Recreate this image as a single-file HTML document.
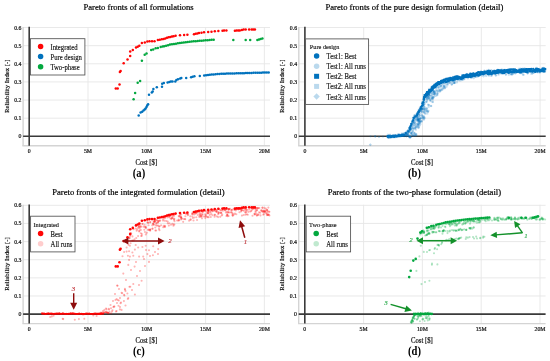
<!DOCTYPE html>
<html><head><meta charset="utf-8"><title>Pareto fronts</title>
<style>
html,body{margin:0;padding:0;background:#fff;}
body{width:550px;height:361px;overflow:hidden;}
svg{display:block;}
text{font-family:'Liberation Serif', 'Times New Roman', serif;}
.ti{font-size:8.6px;fill:#000;stroke:#000;stroke-width:0.2px;}
.tk{font-size:5.8px;fill:#111;stroke:#111;stroke-width:0.2px;}
.ax{font-size:6.7px;fill:#111;stroke:#111;stroke-width:0.18px;}
.pl{font-size:10.6px;font-weight:bold;fill:#000;}
.lg{font-size:6.7px;fill:#111;stroke:#111;stroke-width:0.13px;}
.lgt{font-size:6.3px;fill:#111;stroke:#111;stroke-width:0.12px;}
.an{font-size:6.9px;font-style:italic;}
</style></head>
<body>
<svg width="550" height="361" viewBox="0 0 550 361">
<rect width="550" height="361" fill="#fff"/>
<line x1="88" y1="27" x2="88" y2="145.8" stroke="#e6e6e6" stroke-width="0.9"/>
<line x1="146.8" y1="27" x2="146.8" y2="145.8" stroke="#e6e6e6" stroke-width="0.9"/>
<line x1="205.6" y1="27" x2="205.6" y2="145.8" stroke="#e6e6e6" stroke-width="0.9"/>
<line x1="264.4" y1="27" x2="264.4" y2="145.8" stroke="#e6e6e6" stroke-width="0.9"/>
<line x1="23.1" y1="118.17" x2="270" y2="118.17" stroke="#e6e6e6" stroke-width="0.9"/>
<line x1="23.1" y1="100.04" x2="270" y2="100.04" stroke="#e6e6e6" stroke-width="0.9"/>
<line x1="23.1" y1="81.91" x2="270" y2="81.91" stroke="#e6e6e6" stroke-width="0.9"/>
<line x1="23.1" y1="63.78" x2="270" y2="63.78" stroke="#e6e6e6" stroke-width="0.9"/>
<line x1="23.1" y1="45.65" x2="270" y2="45.65" stroke="#e6e6e6" stroke-width="0.9"/>
<line x1="23.1" y1="27.52" x2="270" y2="27.52" stroke="#e6e6e6" stroke-width="0.9"/>
<line x1="23.1" y1="27" x2="23.1" y2="145.8" stroke="#d4d4d4" stroke-width="1.4"/>
<line x1="22.4" y1="145.8" x2="270" y2="145.8" stroke="#d4d4d4" stroke-width="1.4"/>
<line x1="363.7" y1="27" x2="363.7" y2="145.8" stroke="#e6e6e6" stroke-width="0.9"/>
<line x1="422.5" y1="27" x2="422.5" y2="145.8" stroke="#e6e6e6" stroke-width="0.9"/>
<line x1="481.3" y1="27" x2="481.3" y2="145.8" stroke="#e6e6e6" stroke-width="0.9"/>
<line x1="540.1" y1="27" x2="540.1" y2="145.8" stroke="#e6e6e6" stroke-width="0.9"/>
<line x1="298.8" y1="118.17" x2="545.7" y2="118.17" stroke="#e6e6e6" stroke-width="0.9"/>
<line x1="298.8" y1="100.04" x2="545.7" y2="100.04" stroke="#e6e6e6" stroke-width="0.9"/>
<line x1="298.8" y1="81.91" x2="545.7" y2="81.91" stroke="#e6e6e6" stroke-width="0.9"/>
<line x1="298.8" y1="63.78" x2="545.7" y2="63.78" stroke="#e6e6e6" stroke-width="0.9"/>
<line x1="298.8" y1="45.65" x2="545.7" y2="45.65" stroke="#e6e6e6" stroke-width="0.9"/>
<line x1="298.8" y1="27.52" x2="545.7" y2="27.52" stroke="#e6e6e6" stroke-width="0.9"/>
<line x1="298.8" y1="27" x2="298.8" y2="145.8" stroke="#d4d4d4" stroke-width="1.4"/>
<line x1="298.1" y1="145.8" x2="545.7" y2="145.8" stroke="#d4d4d4" stroke-width="1.4"/>
<line x1="88" y1="204.8" x2="88" y2="323.6" stroke="#e6e6e6" stroke-width="0.9"/>
<line x1="146.8" y1="204.8" x2="146.8" y2="323.6" stroke="#e6e6e6" stroke-width="0.9"/>
<line x1="205.6" y1="204.8" x2="205.6" y2="323.6" stroke="#e6e6e6" stroke-width="0.9"/>
<line x1="264.4" y1="204.8" x2="264.4" y2="323.6" stroke="#e6e6e6" stroke-width="0.9"/>
<line x1="23.1" y1="295.97" x2="270" y2="295.97" stroke="#e6e6e6" stroke-width="0.9"/>
<line x1="23.1" y1="277.84" x2="270" y2="277.84" stroke="#e6e6e6" stroke-width="0.9"/>
<line x1="23.1" y1="259.71" x2="270" y2="259.71" stroke="#e6e6e6" stroke-width="0.9"/>
<line x1="23.1" y1="241.58" x2="270" y2="241.58" stroke="#e6e6e6" stroke-width="0.9"/>
<line x1="23.1" y1="223.45" x2="270" y2="223.45" stroke="#e6e6e6" stroke-width="0.9"/>
<line x1="23.1" y1="205.32" x2="270" y2="205.32" stroke="#e6e6e6" stroke-width="0.9"/>
<line x1="23.1" y1="204.8" x2="23.1" y2="323.6" stroke="#d4d4d4" stroke-width="1.4"/>
<line x1="22.4" y1="323.6" x2="270" y2="323.6" stroke="#d4d4d4" stroke-width="1.4"/>
<line x1="363.6" y1="204.8" x2="363.6" y2="323.6" stroke="#e6e6e6" stroke-width="0.9"/>
<line x1="422.4" y1="204.8" x2="422.4" y2="323.6" stroke="#e6e6e6" stroke-width="0.9"/>
<line x1="481.2" y1="204.8" x2="481.2" y2="323.6" stroke="#e6e6e6" stroke-width="0.9"/>
<line x1="540" y1="204.8" x2="540" y2="323.6" stroke="#e6e6e6" stroke-width="0.9"/>
<line x1="298.7" y1="295.97" x2="545.6" y2="295.97" stroke="#e6e6e6" stroke-width="0.9"/>
<line x1="298.7" y1="277.84" x2="545.6" y2="277.84" stroke="#e6e6e6" stroke-width="0.9"/>
<line x1="298.7" y1="259.71" x2="545.6" y2="259.71" stroke="#e6e6e6" stroke-width="0.9"/>
<line x1="298.7" y1="241.58" x2="545.6" y2="241.58" stroke="#e6e6e6" stroke-width="0.9"/>
<line x1="298.7" y1="223.45" x2="545.6" y2="223.45" stroke="#e6e6e6" stroke-width="0.9"/>
<line x1="298.7" y1="205.32" x2="545.6" y2="205.32" stroke="#e6e6e6" stroke-width="0.9"/>
<line x1="298.7" y1="204.8" x2="298.7" y2="323.6" stroke="#d4d4d4" stroke-width="1.4"/>
<line x1="298" y1="323.6" x2="545.6" y2="323.6" stroke="#d4d4d4" stroke-width="1.4"/>
<text x="138.6" y="10.1" text-anchor="middle" class="ti">Pareto fronts of all formulations</text>
<text x="414.4" y="10.1" text-anchor="middle" class="ti">Pareto fronts of the pure design formulation (detail)</text>
<text x="138.4" y="194.6" text-anchor="middle" class="ti">Pareto fronts of the integrated formulation (detail)</text>
<text x="414.4" y="194.6" text-anchor="middle" class="ti">Pareto fronts of the two-phase formulation (detail)</text>
<text x="21.4" y="138.3" text-anchor="end" class="tk">0</text>
<text x="21.4" y="120.17" text-anchor="end" class="tk">0.1</text>
<text x="21.4" y="102.04" text-anchor="end" class="tk">0.2</text>
<text x="21.4" y="83.91" text-anchor="end" class="tk">0.3</text>
<text x="21.4" y="65.78" text-anchor="end" class="tk">0.4</text>
<text x="21.4" y="47.65" text-anchor="end" class="tk">0.5</text>
<text x="21.4" y="29.52" text-anchor="end" class="tk">0.6</text>
<text x="29.2" y="152.8" text-anchor="middle" class="tk">0</text>
<text x="88" y="152.8" text-anchor="middle" class="tk">5M</text>
<text x="146.8" y="152.8" text-anchor="middle" class="tk">10M</text>
<text x="205.6" y="152.8" text-anchor="middle" class="tk">15M</text>
<text x="264.4" y="152.8" text-anchor="middle" class="tk">20M</text>
<text transform="translate(146.3,164.8) scale(1,1.15)" text-anchor="middle" class="ax">Cost [$]</text>
<text transform="translate(8.7,86.3) rotate(-90)" text-anchor="middle" class="ax">Reliability Index [-]</text>
<text x="297.1" y="138.3" text-anchor="end" class="tk">0</text>
<text x="297.1" y="120.17" text-anchor="end" class="tk">0.1</text>
<text x="297.1" y="102.04" text-anchor="end" class="tk">0.2</text>
<text x="297.1" y="83.91" text-anchor="end" class="tk">0.3</text>
<text x="297.1" y="65.78" text-anchor="end" class="tk">0.4</text>
<text x="297.1" y="47.65" text-anchor="end" class="tk">0.5</text>
<text x="297.1" y="29.52" text-anchor="end" class="tk">0.6</text>
<text x="304.9" y="152.8" text-anchor="middle" class="tk">0</text>
<text x="363.7" y="152.8" text-anchor="middle" class="tk">5M</text>
<text x="422.5" y="152.8" text-anchor="middle" class="tk">10M</text>
<text x="481.3" y="152.8" text-anchor="middle" class="tk">15M</text>
<text x="540.1" y="152.8" text-anchor="middle" class="tk">20M</text>
<text transform="translate(422,164.8) scale(1,1.15)" text-anchor="middle" class="ax">Cost [$]</text>
<text transform="translate(284.4,86.3) rotate(-90)" text-anchor="middle" class="ax">Reliability Index [-]</text>
<text x="21.4" y="316.1" text-anchor="end" class="tk">0</text>
<text x="21.4" y="297.97" text-anchor="end" class="tk">0.1</text>
<text x="21.4" y="279.84" text-anchor="end" class="tk">0.2</text>
<text x="21.4" y="261.71" text-anchor="end" class="tk">0.3</text>
<text x="21.4" y="243.58" text-anchor="end" class="tk">0.4</text>
<text x="21.4" y="225.45" text-anchor="end" class="tk">0.5</text>
<text x="21.4" y="207.32" text-anchor="end" class="tk">0.6</text>
<text x="29.2" y="330.6" text-anchor="middle" class="tk">0</text>
<text x="88" y="330.6" text-anchor="middle" class="tk">5M</text>
<text x="146.8" y="330.6" text-anchor="middle" class="tk">10M</text>
<text x="205.6" y="330.6" text-anchor="middle" class="tk">15M</text>
<text x="264.4" y="330.6" text-anchor="middle" class="tk">20M</text>
<text transform="translate(146.3,342.6) scale(1,1.15)" text-anchor="middle" class="ax">Cost [$]</text>
<text transform="translate(8.7,264.1) rotate(-90)" text-anchor="middle" class="ax">Reliability Index [-]</text>
<text x="297" y="316.1" text-anchor="end" class="tk">0</text>
<text x="297" y="297.97" text-anchor="end" class="tk">0.1</text>
<text x="297" y="279.84" text-anchor="end" class="tk">0.2</text>
<text x="297" y="261.71" text-anchor="end" class="tk">0.3</text>
<text x="297" y="243.58" text-anchor="end" class="tk">0.4</text>
<text x="297" y="225.45" text-anchor="end" class="tk">0.5</text>
<text x="297" y="207.32" text-anchor="end" class="tk">0.6</text>
<text x="304.8" y="330.6" text-anchor="middle" class="tk">0</text>
<text x="363.6" y="330.6" text-anchor="middle" class="tk">5M</text>
<text x="422.4" y="330.6" text-anchor="middle" class="tk">10M</text>
<text x="481.2" y="330.6" text-anchor="middle" class="tk">15M</text>
<text x="540" y="330.6" text-anchor="middle" class="tk">20M</text>
<text transform="translate(421.9,342.6) scale(1,1.15)" text-anchor="middle" class="ax">Cost [$]</text>
<text transform="translate(284.3,264.1) rotate(-90)" text-anchor="middle" class="ax">Reliability Index [-]</text>
<text transform="translate(139,176.8) scale(1,1.12)" text-anchor="middle" class="pl">(a)</text>
<text transform="translate(414.5,176.8) scale(1,1.12)" text-anchor="middle" class="pl">(b)</text>
<text transform="translate(138.8,355) scale(1,1.12)" text-anchor="middle" class="pl">(c)</text>
<text transform="translate(414.5,355) scale(1,1.12)" text-anchor="middle" class="pl">(d)</text>
<line x1="29.2" y1="26.8" x2="29.2" y2="145.8" stroke="#3a3a3a" stroke-width="1.6"/>
<line x1="23.1" y1="136.3" x2="270" y2="136.3" stroke="#3a3a3a" stroke-width="1.6"/>
<line x1="304.9" y1="26.8" x2="304.9" y2="145.8" stroke="#3a3a3a" stroke-width="1.6"/>
<line x1="298.8" y1="136.3" x2="545.7" y2="136.3" stroke="#3a3a3a" stroke-width="1.6"/>
<line x1="29.2" y1="204.6" x2="29.2" y2="323.6" stroke="#3a3a3a" stroke-width="1.6"/>
<line x1="23.1" y1="314.1" x2="270" y2="314.1" stroke="#3a3a3a" stroke-width="1.6"/>
<line x1="304.8" y1="204.6" x2="304.8" y2="323.6" stroke="#3a3a3a" stroke-width="1.6"/>
<line x1="298.7" y1="314.1" x2="545.6" y2="314.1" stroke="#3a3a3a" stroke-width="1.6"/>
<g fill="#ff0505"><circle cx="115.8" cy="88.6" r="1.25"/><circle cx="117.7" cy="88.6" r="1.25"/><circle cx="119.5" cy="84.4" r="1.25"/><circle cx="119.9" cy="71.9" r="1.25"/><circle cx="120.6" cy="70.9" r="1.25"/><circle cx="123.7" cy="63.3" r="1.25"/><circle cx="127.5" cy="59.5" r="1.25"/><circle cx="130.2" cy="56.1" r="1.25"/><circle cx="130.2" cy="51.4" r="1.25"/><circle cx="132.8" cy="50.1" r="1.25"/><circle cx="136" cy="47.6" r="1.25"/><circle cx="137.7" cy="46.7" r="1.25"/><circle cx="139.3" cy="45.8" r="1.25"/><circle cx="141.9" cy="43" r="1.25"/><circle cx="144.8" cy="42.5" r="1.25"/><circle cx="147.4" cy="41.6" r="1.25"/><circle cx="149.5" cy="41.3" r="1.25"/><circle cx="152" cy="41.3" r="1.25"/><circle cx="154.5" cy="41.3" r="1.25"/><circle cx="157.9" cy="40" r="1.25"/><circle cx="159.8" cy="39.7" r="1.25"/><circle cx="161.8" cy="39.3" r="1.25"/><circle cx="163.6" cy="38.9" r="1.25"/><circle cx="165.3" cy="38.4" r="1.25"/><circle cx="167" cy="37.8" r="1.25"/><circle cx="168.7" cy="37.3" r="1.25"/><circle cx="170.3" cy="36.9" r="1.25"/><circle cx="172" cy="36.5" r="1.25"/><circle cx="173.6" cy="36.2" r="1.25"/><circle cx="175.6" cy="35.8" r="1.25"/><circle cx="180" cy="35.3" r="1.25"/><circle cx="184.1" cy="35" r="1.25"/><circle cx="187.4" cy="34.7" r="1.25"/><circle cx="194" cy="34.2" r="1.25"/><circle cx="195.7" cy="33.8" r="1.25"/><circle cx="197.4" cy="33.4" r="1.25"/><circle cx="199" cy="33" r="1.25"/><circle cx="201.5" cy="32.7" r="1.25"/><circle cx="204" cy="32.3" r="1.25"/><circle cx="208.2" cy="32" r="1.25"/><circle cx="211.5" cy="31.7" r="1.25"/><circle cx="214.8" cy="31.3" r="1.25"/><circle cx="218.4" cy="31" r="1.25"/><circle cx="222.5" cy="30.8" r="1.25"/><circle cx="224.1" cy="30.6" r="1.25"/><circle cx="226.4" cy="30.6" r="1.25"/><circle cx="234.9" cy="30.8" r="1.25"/><circle cx="236.6" cy="30.6" r="1.25"/><circle cx="238.3" cy="30.6" r="1.25"/><circle cx="239.8" cy="30.6" r="1.25"/><circle cx="241.9" cy="30" r="1.25"/><circle cx="243.6" cy="29.6" r="1.25"/><circle cx="245.7" cy="29.6" r="1.25"/><circle cx="249.1" cy="29.5" r="1.25"/><circle cx="251.6" cy="29.6" r="1.25"/><circle cx="253.2" cy="29.6" r="1.25"/><circle cx="254.9" cy="29.6" r="1.25"/></g>
<g fill="#03a83f"><circle cx="133.6" cy="99.3" r="1.25"/><circle cx="135.1" cy="93" r="1.25"/><circle cx="137.7" cy="82.8" r="1.25"/><circle cx="140.1" cy="81.1" r="1.25"/><circle cx="141.9" cy="60.8" r="1.25"/><circle cx="144.7" cy="54.8" r="1.25"/><circle cx="146.5" cy="53.4" r="1.25"/><circle cx="151.2" cy="50" r="1.25"/><circle cx="153.2" cy="49.5" r="1.25"/><circle cx="155.7" cy="48.3" r="1.25"/><circle cx="157.9" cy="48" r="1.25"/><circle cx="160.7" cy="47" r="1.25"/><circle cx="162.6" cy="46.5" r="1.25"/><circle cx="164.2" cy="46.2" r="1.25"/><circle cx="166.13" cy="45.67" r="1.25"/><circle cx="168.06" cy="45.14" r="1.25"/><circle cx="169.98" cy="44.6" r="1.25"/><circle cx="171.96" cy="44.29" r="1.25"/><circle cx="173.93" cy="43.97" r="1.25"/><circle cx="175.91" cy="43.65" r="1.25"/><circle cx="177.88" cy="43.34" r="1.25"/><circle cx="179.86" cy="43.02" r="1.25"/><circle cx="181.84" cy="42.74" r="1.25"/><circle cx="183.82" cy="42.47" r="1.25"/><circle cx="185.8" cy="42.19" r="1.25"/><circle cx="187.78" cy="41.91" r="1.25"/><circle cx="189.76" cy="41.63" r="1.25"/><circle cx="191.75" cy="41.46" r="1.25"/><circle cx="193.75" cy="41.3" r="1.25"/><circle cx="195.74" cy="41.14" r="1.25"/><circle cx="197.73" cy="40.98" r="1.25"/><circle cx="199.73" cy="40.82" r="1.25"/><circle cx="201.72" cy="40.66" r="1.25"/><circle cx="203.71" cy="40.5" r="1.25"/><circle cx="205.71" cy="40.34" r="1.25"/><circle cx="207.7" cy="40.18" r="1.25"/><circle cx="209.7" cy="40.02" r="1.25"/><circle cx="211.69" cy="39.86" r="1.25"/><circle cx="213.68" cy="39.69" r="1.25"/><circle cx="233.3" cy="39.9" r="1.25"/><circle cx="245.7" cy="39.9" r="1.25"/><circle cx="250.2" cy="39.9" r="1.25"/><circle cx="257.4" cy="39.9" r="1.25"/><circle cx="259" cy="39.6" r="1.25"/><circle cx="260.7" cy="39.1" r="1.25"/><circle cx="262.4" cy="38.6" r="1.25"/></g>
<g fill="#0072bd"><circle cx="138.7" cy="115.5" r="1.25"/><circle cx="140.6" cy="112.6" r="1.25"/><circle cx="142.2" cy="111.8" r="1.25"/><circle cx="143.5" cy="110.5" r="1.25"/><circle cx="144.7" cy="109.6" r="1.25"/><circle cx="145.6" cy="108.6" r="1.25"/><circle cx="146.5" cy="107.1" r="1.25"/><circle cx="147.2" cy="105.5" r="1.25"/><circle cx="148.1" cy="104.3" r="1.25"/><circle cx="149" cy="94.7" r="1.25"/><circle cx="151.8" cy="92.4" r="1.25"/><circle cx="152.7" cy="91.4" r="1.25"/><circle cx="153.4" cy="89" r="1.25"/><circle cx="156.8" cy="87.2" r="1.25"/><circle cx="162" cy="86.8" r="1.25"/><circle cx="162.2" cy="83.8" r="1.25"/><circle cx="163.8" cy="83" r="1.25"/><circle cx="167.6" cy="82.5" r="1.25"/><circle cx="169.3" cy="81.9" r="1.25"/><circle cx="170.9" cy="81.6" r="1.25"/><circle cx="172.5" cy="81.4" r="1.25"/><circle cx="175.3" cy="81.6" r="1.25"/><circle cx="176.4" cy="80" r="1.25"/><circle cx="178" cy="79.2" r="1.25"/><circle cx="180.2" cy="78.6" r="1.25"/><circle cx="181.3" cy="78.1" r="1.25"/><circle cx="186.2" cy="77.9" r="1.25"/><circle cx="191.1" cy="77.2" r="1.25"/><circle cx="192.7" cy="76.8" r="1.25"/><circle cx="194.4" cy="76.3" r="1.25"/><circle cx="199.8" cy="75.9" r="1.25"/><circle cx="204.2" cy="75.4" r="1.25"/><circle cx="206.09" cy="75.2" r="1.25"/><circle cx="207.98" cy="75.01" r="1.25"/><circle cx="209.87" cy="74.81" r="1.25"/><circle cx="211.76" cy="74.62" r="1.25"/><circle cx="213.65" cy="74.43" r="1.25"/><circle cx="215.54" cy="74.25" r="1.25"/><circle cx="217.43" cy="74.06" r="1.25"/><circle cx="219.32" cy="73.89" r="1.25"/><circle cx="221.22" cy="73.82" r="1.25"/><circle cx="223.12" cy="73.75" r="1.25"/><circle cx="225.02" cy="73.68" r="1.25"/><circle cx="226.92" cy="73.61" r="1.25"/><circle cx="228.82" cy="73.54" r="1.25"/><circle cx="230.72" cy="73.48" r="1.25"/><circle cx="232.62" cy="73.43" r="1.25"/><circle cx="234.52" cy="73.38" r="1.25"/><circle cx="236.41" cy="73.33" r="1.25"/><circle cx="238.31" cy="73.28" r="1.25"/><circle cx="240.21" cy="73.23" r="1.25"/><circle cx="242.11" cy="73.18" r="1.25"/><circle cx="244.01" cy="73.13" r="1.25"/><circle cx="245.91" cy="73.08" r="1.25"/><circle cx="247.81" cy="73.03" r="1.25"/><circle cx="249.71" cy="72.97" r="1.25"/><circle cx="251.61" cy="72.92" r="1.25"/><circle cx="253.51" cy="72.87" r="1.25"/><circle cx="255.41" cy="72.82" r="1.25"/><circle cx="257.31" cy="72.77" r="1.25"/><circle cx="259.21" cy="72.72" r="1.25"/><circle cx="261.11" cy="72.66" r="1.25"/><circle cx="263" cy="72.6" r="1.25"/><circle cx="264.9" cy="72.54" r="1.25"/><circle cx="266.8" cy="72.47" r="1.25"/><circle cx="268.7" cy="72.41" r="1.25"/></g>
<g fill="#0072bd" fill-opacity="0.22"><circle cx="425.71" cy="95.04" r="1.1"/><circle cx="418.04" cy="120.46" r="1.1"/><circle cx="413.87" cy="121.71" r="1.1"/><circle cx="414.89" cy="120.8" r="1.1"/><circle cx="526.87" cy="72.45" r="1.1"/><circle cx="408.25" cy="133.94" r="1.1"/><circle cx="446.48" cy="82.41" r="1.1"/><circle cx="421.71" cy="115.01" r="1.1"/><circle cx="404.5" cy="135.06" r="1.1"/><circle cx="431.65" cy="94.48" r="1.1"/><circle cx="424.59" cy="108.89" r="1.1"/><circle cx="388.58" cy="137.39" r="1.1"/><circle cx="422.14" cy="108.79" r="1.1"/><circle cx="417.73" cy="125.63" r="1.1"/><circle cx="416.84" cy="117.13" r="1.1"/><circle cx="418.64" cy="127.53" r="1.1"/><circle cx="443.06" cy="81.74" r="1.1"/><circle cx="426.79" cy="97.35" r="1.1"/><circle cx="436.17" cy="87.86" r="1.1"/><circle cx="404.41" cy="135.46" r="1.1"/><circle cx="427.5" cy="98.19" r="1.1"/><circle cx="395.4" cy="135.33" r="1.1"/><circle cx="467.95" cy="78.52" r="1.1"/><circle cx="506.89" cy="73.3" r="1.1"/><circle cx="496.14" cy="75.38" r="1.1"/><circle cx="398.86" cy="134.73" r="1.1"/><circle cx="415.29" cy="127.62" r="1.1"/><circle cx="388.07" cy="136.79" r="1.1"/><circle cx="431.99" cy="92.32" r="1.1"/><circle cx="437.21" cy="94.02" r="1.1"/><circle cx="427.28" cy="93.09" r="1.1"/><circle cx="453.16" cy="81.06" r="1.1"/><circle cx="407.67" cy="131.68" r="1.1"/><circle cx="433.98" cy="87.42" r="1.1"/><circle cx="422.71" cy="117.99" r="1.1"/><circle cx="421.73" cy="120.9" r="1.1"/><circle cx="417.16" cy="117.78" r="1.1"/><circle cx="423.58" cy="112.25" r="1.1"/><circle cx="420.84" cy="118.43" r="1.1"/><circle cx="421.87" cy="111.85" r="1.1"/><circle cx="509.48" cy="72.6" r="1.1"/><circle cx="425" cy="109.71" r="1.1"/><circle cx="399.21" cy="135.05" r="1.1"/><circle cx="456.91" cy="82.4" r="1.1"/><circle cx="419.53" cy="115.49" r="1.1"/><circle cx="474.88" cy="74.21" r="1.1"/><circle cx="405.71" cy="134.56" r="1.1"/><circle cx="505.93" cy="74.65" r="1.1"/><circle cx="395.01" cy="136.21" r="1.1"/><circle cx="507.59" cy="70.39" r="1.1"/><circle cx="411.76" cy="128.25" r="1.1"/><circle cx="421.01" cy="109.87" r="1.1"/><circle cx="390.15" cy="136.38" r="1.1"/><circle cx="388.84" cy="136.73" r="1.1"/><circle cx="522.59" cy="68.67" r="1.1"/><circle cx="411.58" cy="125.89" r="1.1"/><circle cx="406.24" cy="132.3" r="1.1"/><circle cx="392.93" cy="136.28" r="1.1"/><circle cx="387.83" cy="136.39" r="1.1"/><circle cx="403.02" cy="134.83" r="1.1"/><circle cx="422.24" cy="109.52" r="1.1"/><circle cx="419.92" cy="118.28" r="1.1"/><circle cx="527.43" cy="70.5" r="1.1"/><circle cx="475.36" cy="73.74" r="1.1"/><circle cx="419.22" cy="124.71" r="1.1"/><circle cx="428.63" cy="91.01" r="1.1"/><circle cx="424.69" cy="118.09" r="1.1"/><circle cx="424.42" cy="103.89" r="1.1"/><circle cx="480.76" cy="72.77" r="1.1"/><circle cx="505.72" cy="74.48" r="1.1"/><circle cx="388.46" cy="137.21" r="1.1"/><circle cx="440.78" cy="85.76" r="1.1"/><circle cx="477.8" cy="76.68" r="1.1"/><circle cx="427.32" cy="100.04" r="1.1"/><circle cx="416.44" cy="135.25" r="1.1"/><circle cx="475.24" cy="76.51" r="1.1"/><circle cx="448.67" cy="78.36" r="1.1"/><circle cx="387.52" cy="136.09" r="1.1"/><circle cx="419.03" cy="121.44" r="1.1"/><circle cx="415.83" cy="116.83" r="1.1"/><circle cx="398.19" cy="134.21" r="1.1"/><circle cx="408.83" cy="136.22" r="1.1"/><circle cx="447.72" cy="80.36" r="1.1"/><circle cx="419.85" cy="121.2" r="1.1"/><circle cx="509.8" cy="72.3" r="1.1"/><circle cx="388.11" cy="136.56" r="1.1"/><circle cx="399.77" cy="136.39" r="1.1"/><circle cx="489" cy="71.49" r="1.1"/><circle cx="512.27" cy="74.47" r="1.1"/><circle cx="460.08" cy="80.64" r="1.1"/><circle cx="405.48" cy="134.6" r="1.1"/><circle cx="436.01" cy="90.63" r="1.1"/><circle cx="398.87" cy="135.64" r="1.1"/><circle cx="452.2" cy="83.76" r="1.1"/><circle cx="466.91" cy="74.26" r="1.1"/><circle cx="406.72" cy="134.25" r="1.1"/><circle cx="405.9" cy="132.8" r="1.1"/><circle cx="452.11" cy="84.33" r="1.1"/><circle cx="435.53" cy="84.95" r="1.1"/><circle cx="418.07" cy="125.66" r="1.1"/><circle cx="464.19" cy="76.39" r="1.1"/><circle cx="423.88" cy="100.2" r="1.1"/><circle cx="495.39" cy="73.89" r="1.1"/><circle cx="518.06" cy="72.18" r="1.1"/><circle cx="539.34" cy="71.68" r="1.1"/><circle cx="420.61" cy="110.89" r="1.1"/><circle cx="470.36" cy="75.21" r="1.1"/><circle cx="442.2" cy="80.85" r="1.1"/><circle cx="419.53" cy="119.34" r="1.1"/><circle cx="433.41" cy="92.33" r="1.1"/><circle cx="466.47" cy="74.19" r="1.1"/><circle cx="428" cy="104.58" r="1.1"/><circle cx="478.66" cy="73.85" r="1.1"/><circle cx="409.46" cy="130.95" r="1.1"/><circle cx="422.47" cy="115.57" r="1.1"/><circle cx="418.62" cy="123.97" r="1.1"/><circle cx="408.38" cy="130.8" r="1.1"/><circle cx="516.4" cy="70.52" r="1.1"/><circle cx="446.61" cy="86.82" r="1.1"/><circle cx="431.42" cy="90.3" r="1.1"/><circle cx="388.66" cy="137.29" r="1.1"/><circle cx="420.76" cy="107.01" r="1.1"/><circle cx="418.68" cy="118.89" r="1.1"/><circle cx="458.75" cy="78.85" r="1.1"/><circle cx="462.16" cy="75.85" r="1.1"/><circle cx="412.12" cy="135.07" r="1.1"/><circle cx="419.44" cy="114.14" r="1.1"/><circle cx="419.49" cy="125.65" r="1.1"/><circle cx="520.23" cy="68.65" r="1.1"/><circle cx="406.03" cy="132.95" r="1.1"/><circle cx="440.46" cy="82.1" r="1.1"/><circle cx="417.27" cy="127.36" r="1.1"/><circle cx="423.36" cy="104.85" r="1.1"/><circle cx="521.35" cy="72.84" r="1.1"/><circle cx="515.84" cy="73.16" r="1.1"/><circle cx="447.8" cy="83.57" r="1.1"/><circle cx="419.42" cy="123.05" r="1.1"/><circle cx="418.3" cy="119.7" r="1.1"/><circle cx="498.91" cy="71.54" r="1.1"/><circle cx="434.5" cy="84.06" r="1.1"/><circle cx="426.63" cy="97" r="1.1"/><circle cx="508.21" cy="69.77" r="1.1"/><circle cx="406.57" cy="131.59" r="1.1"/><circle cx="531.32" cy="73.93" r="1.1"/><circle cx="433.62" cy="97.7" r="1.1"/><circle cx="470.13" cy="76.09" r="1.1"/><circle cx="420.48" cy="124.36" r="1.1"/><circle cx="453.95" cy="83.23" r="1.1"/><circle cx="393.18" cy="135.97" r="1.1"/><circle cx="474.2" cy="76.27" r="1.1"/><circle cx="432.88" cy="99.87" r="1.1"/><circle cx="430.91" cy="95.76" r="1.1"/><circle cx="416.01" cy="119.04" r="1.1"/><circle cx="437.42" cy="93.5" r="1.1"/><circle cx="436.95" cy="95.4" r="1.1"/><circle cx="437.63" cy="93.05" r="1.1"/><circle cx="408.51" cy="132.6" r="1.1"/><circle cx="425.47" cy="96.44" r="1.1"/><circle cx="408.98" cy="131.58" r="1.1"/><circle cx="413.23" cy="128.58" r="1.1"/><circle cx="423.71" cy="104.98" r="1.1"/><circle cx="398.27" cy="135.41" r="1.1"/><circle cx="454.59" cy="81.17" r="1.1"/><circle cx="418.55" cy="121.23" r="1.1"/><circle cx="417.16" cy="126.65" r="1.1"/><circle cx="418.13" cy="116.38" r="1.1"/><circle cx="449.68" cy="82.66" r="1.1"/><circle cx="421.22" cy="113.28" r="1.1"/><circle cx="417.01" cy="124.05" r="1.1"/><circle cx="501.73" cy="69.3" r="1.1"/><circle cx="443.64" cy="86" r="1.1"/><circle cx="433.79" cy="91.92" r="1.1"/><circle cx="416.49" cy="120.53" r="1.1"/><circle cx="411.62" cy="133.07" r="1.1"/><circle cx="494.29" cy="70.14" r="1.1"/><circle cx="391.07" cy="137.75" r="1.1"/><circle cx="426.53" cy="111.49" r="1.1"/><circle cx="447.96" cy="79.55" r="1.1"/><circle cx="420.66" cy="110.16" r="1.1"/><circle cx="542.39" cy="70.8" r="1.1"/><circle cx="535.31" cy="72.2" r="1.1"/><circle cx="453.83" cy="82.97" r="1.1"/><circle cx="387.65" cy="137.02" r="1.1"/><circle cx="419.75" cy="111.08" r="1.1"/><circle cx="426.22" cy="102.04" r="1.1"/><circle cx="401.55" cy="135.41" r="1.1"/><circle cx="437.9" cy="87.12" r="1.1"/><circle cx="401.04" cy="134.77" r="1.1"/><circle cx="427.86" cy="96.38" r="1.1"/><circle cx="418.97" cy="111.15" r="1.1"/><circle cx="459.04" cy="80.25" r="1.1"/><circle cx="506.3" cy="71.24" r="1.1"/><circle cx="423.29" cy="103.14" r="1.1"/><circle cx="397.37" cy="135.27" r="1.1"/><circle cx="410.62" cy="136.66" r="1.1"/><circle cx="424.31" cy="117.47" r="1.1"/><circle cx="507.03" cy="70.26" r="1.1"/><circle cx="416.29" cy="134.2" r="1.1"/><circle cx="491.12" cy="75.9" r="1.1"/><circle cx="454.56" cy="82.79" r="1.1"/><circle cx="418.25" cy="119.02" r="1.1"/><circle cx="415.3" cy="123.43" r="1.1"/><circle cx="443.55" cy="88.07" r="1.1"/><circle cx="433.01" cy="94.18" r="1.1"/><circle cx="392.27" cy="135.93" r="1.1"/><circle cx="399.19" cy="136.6" r="1.1"/><circle cx="406.31" cy="136.32" r="1.1"/><circle cx="418.08" cy="119.95" r="1.1"/><circle cx="466.39" cy="76.46" r="1.1"/><circle cx="505.64" cy="72.08" r="1.1"/><circle cx="449.91" cy="79.43" r="1.1"/><circle cx="440.38" cy="90.83" r="1.1"/><circle cx="524.73" cy="68.55" r="1.1"/><circle cx="529.2" cy="69.22" r="1.1"/><circle cx="417.59" cy="124.5" r="1.1"/><circle cx="393.24" cy="135.8" r="1.1"/><circle cx="491.45" cy="70.12" r="1.1"/><circle cx="488.64" cy="69.84" r="1.1"/><circle cx="421.48" cy="107.9" r="1.1"/><circle cx="405.85" cy="134.88" r="1.1"/><circle cx="405.42" cy="135.45" r="1.1"/><circle cx="414.36" cy="115.38" r="1.1"/><circle cx="401.96" cy="135.37" r="1.1"/><circle cx="448.39" cy="78.14" r="1.1"/><circle cx="387.86" cy="135.94" r="1.1"/><circle cx="535.65" cy="71.81" r="1.1"/><circle cx="453.86" cy="79.45" r="1.1"/><circle cx="425.15" cy="113.2" r="1.1"/><circle cx="449.68" cy="80.64" r="1.1"/><circle cx="391.27" cy="136.49" r="1.1"/><circle cx="410.22" cy="130.61" r="1.1"/><circle cx="398.03" cy="136.07" r="1.1"/><circle cx="416.38" cy="114.1" r="1.1"/><circle cx="429.51" cy="95.24" r="1.1"/><circle cx="418.26" cy="122.01" r="1.1"/><circle cx="464.37" cy="79.23" r="1.1"/><circle cx="474.7" cy="73.24" r="1.1"/><circle cx="429.08" cy="105.05" r="1.1"/><circle cx="429.64" cy="91.86" r="1.1"/><circle cx="434.85" cy="91.74" r="1.1"/><circle cx="433.71" cy="87.37" r="1.1"/><circle cx="458.73" cy="76.54" r="1.1"/><circle cx="420.38" cy="108.66" r="1.1"/><circle cx="488.79" cy="74.96" r="1.1"/><circle cx="513.53" cy="71.76" r="1.1"/><circle cx="428.7" cy="98.55" r="1.1"/><circle cx="395.86" cy="135.84" r="1.1"/><circle cx="423.72" cy="112.12" r="1.1"/><circle cx="418.21" cy="113.13" r="1.1"/><circle cx="404.02" cy="135.9" r="1.1"/><circle cx="426.95" cy="110.38" r="1.1"/><circle cx="407.73" cy="135.64" r="1.1"/><circle cx="426.99" cy="94.12" r="1.1"/><circle cx="442.04" cy="83.77" r="1.1"/><circle cx="415.86" cy="133.82" r="1.1"/><circle cx="407.34" cy="132.84" r="1.1"/><circle cx="411.44" cy="133.88" r="1.1"/><circle cx="390.26" cy="136.72" r="1.1"/><circle cx="404.51" cy="133.25" r="1.1"/><circle cx="522.3" cy="73.1" r="1.1"/><circle cx="370.5" cy="136.3" r="1.1"/></g>
<g fill="#0072bd" fill-opacity="0.22"><rect x="393.86" y="135.13" width="2.0" height="2.0"/><rect x="422.66" y="109.96" width="2.0" height="2.0"/><rect x="410.24" y="128.3" width="2.0" height="2.0"/><rect x="467.63" y="74.12" width="2.0" height="2.0"/><rect x="398.42" y="133.93" width="2.0" height="2.0"/><rect x="471.7" y="72.83" width="2.0" height="2.0"/><rect x="390.83" y="136.24" width="2.0" height="2.0"/><rect x="391.87" y="135.31" width="2.0" height="2.0"/><rect x="409.99" y="127.85" width="2.0" height="2.0"/><rect x="442.14" y="86.61" width="2.0" height="2.0"/><rect x="429.72" y="92.01" width="2.0" height="2.0"/><rect x="492.5" y="72.47" width="2.0" height="2.0"/><rect x="442.23" y="82.78" width="2.0" height="2.0"/><rect x="522.46" y="73.96" width="2.0" height="2.0"/><rect x="461.23" y="76.58" width="2.0" height="2.0"/><rect x="403.27" y="132.05" width="2.0" height="2.0"/><rect x="421.21" y="104.53" width="2.0" height="2.0"/><rect x="418.88" y="106.46" width="2.0" height="2.0"/><rect x="431.54" y="95.84" width="2.0" height="2.0"/><rect x="423.47" y="102.74" width="2.0" height="2.0"/><rect x="447.04" y="81.27" width="2.0" height="2.0"/><rect x="490.92" y="74.39" width="2.0" height="2.0"/><rect x="417.74" y="110.85" width="2.0" height="2.0"/><rect x="480" y="70.19" width="2.0" height="2.0"/><rect x="477.12" y="71.31" width="2.0" height="2.0"/><rect x="510.13" y="73.53" width="2.0" height="2.0"/><rect x="387.03" y="135.45" width="2.0" height="2.0"/><rect x="530.71" y="71.21" width="2.0" height="2.0"/><rect x="408.3" y="136.18" width="2.0" height="2.0"/><rect x="429.53" y="100.07" width="2.0" height="2.0"/><rect x="438.01" y="86.04" width="2.0" height="2.0"/><rect x="422.55" y="104.53" width="2.0" height="2.0"/><rect x="409.96" y="128.27" width="2.0" height="2.0"/><rect x="450.92" y="80.98" width="2.0" height="2.0"/><rect x="422.61" y="118.78" width="2.0" height="2.0"/><rect x="411.3" y="120.24" width="2.0" height="2.0"/><rect x="393.43" y="134.13" width="2.0" height="2.0"/><rect x="432.61" y="87.02" width="2.0" height="2.0"/><rect x="392.59" y="136.21" width="2.0" height="2.0"/><rect x="417.83" y="125.79" width="2.0" height="2.0"/><rect x="394.48" y="134.87" width="2.0" height="2.0"/><rect x="388.67" y="134.76" width="2.0" height="2.0"/><rect x="427.99" y="97.36" width="2.0" height="2.0"/><rect x="507.81" y="73.71" width="2.0" height="2.0"/><rect x="409.58" y="128.63" width="2.0" height="2.0"/><rect x="439.52" y="86.04" width="2.0" height="2.0"/><rect x="452.27" y="75.91" width="2.0" height="2.0"/><rect x="498.48" y="69.11" width="2.0" height="2.0"/><rect x="410.56" y="131.94" width="2.0" height="2.0"/><rect x="433.17" y="93.43" width="2.0" height="2.0"/><rect x="387.37" y="135.27" width="2.0" height="2.0"/><rect x="519.86" y="72.22" width="2.0" height="2.0"/><rect x="416.63" y="119.03" width="2.0" height="2.0"/><rect x="417.51" y="110.65" width="2.0" height="2.0"/><rect x="446.59" y="83.16" width="2.0" height="2.0"/><rect x="510.96" y="73.27" width="2.0" height="2.0"/><rect x="427.59" y="104.15" width="2.0" height="2.0"/><rect x="431.05" y="94.86" width="2.0" height="2.0"/><rect x="416.34" y="119.3" width="2.0" height="2.0"/><rect x="416.31" y="115.51" width="2.0" height="2.0"/><rect x="425.81" y="94.33" width="2.0" height="2.0"/><rect x="431.33" y="85.47" width="2.0" height="2.0"/><rect x="502.16" y="71.89" width="2.0" height="2.0"/><rect x="418.12" y="119.19" width="2.0" height="2.0"/><rect x="406.76" y="133.82" width="2.0" height="2.0"/><rect x="388.67" y="135.41" width="2.0" height="2.0"/><rect x="509.86" y="72.6" width="2.0" height="2.0"/><rect x="440.05" y="85.19" width="2.0" height="2.0"/><rect x="424.25" y="112.8" width="2.0" height="2.0"/><rect x="456.41" y="79.66" width="2.0" height="2.0"/><rect x="391.7" y="134.76" width="2.0" height="2.0"/><rect x="511.5" y="70.01" width="2.0" height="2.0"/><rect x="480.98" y="74.51" width="2.0" height="2.0"/><rect x="394.25" y="133.93" width="2.0" height="2.0"/><rect x="408.66" y="126.87" width="2.0" height="2.0"/><rect x="427.07" y="110.7" width="2.0" height="2.0"/><rect x="436.92" y="90.46" width="2.0" height="2.0"/><rect x="418.37" y="119.87" width="2.0" height="2.0"/><rect x="544.2" y="69.36" width="2.0" height="2.0"/><rect x="414.55" y="134.55" width="2.0" height="2.0"/><rect x="407.15" y="132.57" width="2.0" height="2.0"/><rect x="423.82" y="106.36" width="2.0" height="2.0"/><rect x="405.61" y="132.58" width="2.0" height="2.0"/><rect x="401.2" y="132.75" width="2.0" height="2.0"/><rect x="449.48" y="76.21" width="2.0" height="2.0"/><rect x="413.16" y="131.87" width="2.0" height="2.0"/><rect x="538.23" y="68.43" width="2.0" height="2.0"/><rect x="519.91" y="71.73" width="2.0" height="2.0"/><rect x="509.86" y="72.89" width="2.0" height="2.0"/><rect x="429.05" y="98.84" width="2.0" height="2.0"/><rect x="444.3" y="81.93" width="2.0" height="2.0"/><rect x="430.18" y="105.07" width="2.0" height="2.0"/><rect x="408.24" y="130.96" width="2.0" height="2.0"/><rect x="442.8" y="81.77" width="2.0" height="2.0"/><rect x="484.77" y="72.23" width="2.0" height="2.0"/><rect x="429.46" y="98.36" width="2.0" height="2.0"/><rect x="414.35" y="121.16" width="2.0" height="2.0"/><rect x="490.96" y="70.88" width="2.0" height="2.0"/><rect x="428.62" y="91.7" width="2.0" height="2.0"/><rect x="436.46" y="93.83" width="2.0" height="2.0"/><rect x="419.23" y="121.65" width="2.0" height="2.0"/><rect x="413.46" y="132.08" width="2.0" height="2.0"/><rect x="412.55" y="122.15" width="2.0" height="2.0"/><rect x="411.98" y="134.71" width="2.0" height="2.0"/><rect x="397.7" y="134.55" width="2.0" height="2.0"/><rect x="414.15" y="127.35" width="2.0" height="2.0"/><rect x="408.78" y="131.02" width="2.0" height="2.0"/><rect x="429.46" y="89.3" width="2.0" height="2.0"/><rect x="418.6" y="122" width="2.0" height="2.0"/><rect x="417.9" y="108.72" width="2.0" height="2.0"/><rect x="443.99" y="86.67" width="2.0" height="2.0"/><rect x="428.02" y="93.89" width="2.0" height="2.0"/><rect x="391.71" y="134.23" width="2.0" height="2.0"/><rect x="412.51" y="134.44" width="2.0" height="2.0"/><rect x="408.39" y="135.5" width="2.0" height="2.0"/><rect x="413" y="134.37" width="2.0" height="2.0"/><rect x="417.16" y="119.33" width="2.0" height="2.0"/><rect x="401.2" y="134.41" width="2.0" height="2.0"/><rect x="423.69" y="107.43" width="2.0" height="2.0"/><rect x="432.23" y="95.92" width="2.0" height="2.0"/><rect x="400.81" y="132.66" width="2.0" height="2.0"/><rect x="488.38" y="70.61" width="2.0" height="2.0"/><rect x="398.02" y="134.73" width="2.0" height="2.0"/><rect x="490.27" y="73.29" width="2.0" height="2.0"/><rect x="411.55" y="123.31" width="2.0" height="2.0"/><rect x="438.72" y="89.96" width="2.0" height="2.0"/><rect x="419.21" y="110.42" width="2.0" height="2.0"/><rect x="497.57" y="73.62" width="2.0" height="2.0"/><rect x="423.33" y="99.37" width="2.0" height="2.0"/><rect x="431.75" y="96.61" width="2.0" height="2.0"/><rect x="431.57" y="97.19" width="2.0" height="2.0"/><rect x="430.9" y="92.5" width="2.0" height="2.0"/><rect x="394.52" y="135.36" width="2.0" height="2.0"/><rect x="441.19" y="88.8" width="2.0" height="2.0"/><rect x="423.12" y="111.62" width="2.0" height="2.0"/><rect x="417.7" y="112.36" width="2.0" height="2.0"/><rect x="511.88" y="72.89" width="2.0" height="2.0"/><rect x="416.44" y="116.98" width="2.0" height="2.0"/><rect x="444.87" y="81.09" width="2.0" height="2.0"/><rect x="401.68" y="134.75" width="2.0" height="2.0"/><rect x="413.76" y="114.63" width="2.0" height="2.0"/><rect x="443.79" y="85.98" width="2.0" height="2.0"/><rect x="394.64" y="136.11" width="2.0" height="2.0"/><rect x="425.12" y="100.78" width="2.0" height="2.0"/><rect x="427.75" y="95.89" width="2.0" height="2.0"/><rect x="406.98" y="134.68" width="2.0" height="2.0"/><rect x="410.9" y="131.87" width="2.0" height="2.0"/><rect x="449.07" y="82.07" width="2.0" height="2.0"/><rect x="523.38" y="67.65" width="2.0" height="2.0"/><rect x="424.72" y="110.35" width="2.0" height="2.0"/><rect x="447.64" y="79.86" width="2.0" height="2.0"/><rect x="508.58" y="69.95" width="2.0" height="2.0"/><rect x="422.66" y="116.05" width="2.0" height="2.0"/><rect x="400.39" y="134.62" width="2.0" height="2.0"/><rect x="425.22" y="94.29" width="2.0" height="2.0"/><rect x="421.97" y="102.57" width="2.0" height="2.0"/><rect x="537.67" y="69.29" width="2.0" height="2.0"/><rect x="422.59" y="105.68" width="2.0" height="2.0"/><rect x="532.92" y="71.79" width="2.0" height="2.0"/><rect x="414.81" y="128.69" width="2.0" height="2.0"/><rect x="487.71" y="69.43" width="2.0" height="2.0"/><rect x="394.5" y="136.06" width="2.0" height="2.0"/><rect x="426.7" y="92.64" width="2.0" height="2.0"/><rect x="399.18" y="134.07" width="2.0" height="2.0"/><rect x="527.06" y="72.03" width="2.0" height="2.0"/><rect x="494.2" y="70.3" width="2.0" height="2.0"/><rect x="409.28" y="128.75" width="2.0" height="2.0"/><rect x="426.31" y="112.53" width="2.0" height="2.0"/><rect x="461.2" y="78.72" width="2.0" height="2.0"/><rect x="437.27" y="86.6" width="2.0" height="2.0"/><rect x="422.61" y="108.52" width="2.0" height="2.0"/><rect x="403.64" y="133.62" width="2.0" height="2.0"/><rect x="391.94" y="135.94" width="2.0" height="2.0"/><rect x="427.7" y="105.86" width="2.0" height="2.0"/><rect x="388.64" y="134.55" width="2.0" height="2.0"/><rect x="433.89" y="93.08" width="2.0" height="2.0"/><rect x="417.75" y="109.74" width="2.0" height="2.0"/><rect x="407.56" y="129.3" width="2.0" height="2.0"/><rect x="402.68" y="133.07" width="2.0" height="2.0"/><rect x="479.73" y="73.38" width="2.0" height="2.0"/><rect x="440.18" y="81.05" width="2.0" height="2.0"/><rect x="426.81" y="95.45" width="2.0" height="2.0"/><rect x="462.84" y="78.06" width="2.0" height="2.0"/><rect x="439.15" y="88.6" width="2.0" height="2.0"/><rect x="439.54" y="84.59" width="2.0" height="2.0"/><rect x="483.76" y="73.73" width="2.0" height="2.0"/><rect x="533.14" y="70.93" width="2.0" height="2.0"/><rect x="387.31" y="135.33" width="2.0" height="2.0"/><rect x="474.11" y="76.01" width="2.0" height="2.0"/><rect x="410.8" y="126.02" width="2.0" height="2.0"/><rect x="418.06" y="113.05" width="2.0" height="2.0"/><rect x="427.47" y="95.23" width="2.0" height="2.0"/><rect x="411.8" y="129.61" width="2.0" height="2.0"/><rect x="406.43" y="131.1" width="2.0" height="2.0"/><rect x="423.29" y="108.24" width="2.0" height="2.0"/><rect x="459.44" y="77.37" width="2.0" height="2.0"/><rect x="430.9" y="97.75" width="2.0" height="2.0"/><rect x="422.01" y="115.71" width="2.0" height="2.0"/><rect x="527.43" y="69.78" width="2.0" height="2.0"/><rect x="475.16" y="76" width="2.0" height="2.0"/><rect x="412.79" y="125.45" width="2.0" height="2.0"/><rect x="413.04" y="122.02" width="2.0" height="2.0"/><rect x="411.71" y="119.29" width="2.0" height="2.0"/><rect x="431.82" y="97.29" width="2.0" height="2.0"/><rect x="435.45" y="88.99" width="2.0" height="2.0"/><rect x="397.48" y="133.7" width="2.0" height="2.0"/><rect x="519.6" y="71.33" width="2.0" height="2.0"/><rect x="434.65" y="94.76" width="2.0" height="2.0"/><rect x="428.48" y="94.19" width="2.0" height="2.0"/><rect x="526.36" y="71.32" width="2.0" height="2.0"/><rect x="422.33" y="102.57" width="2.0" height="2.0"/><rect x="476.19" y="73.7" width="2.0" height="2.0"/><rect x="413.63" y="117.32" width="2.0" height="2.0"/><rect x="507.78" y="71.57" width="2.0" height="2.0"/><rect x="412.07" y="120.69" width="2.0" height="2.0"/><rect x="431.54" y="101.03" width="2.0" height="2.0"/><rect x="389.37" y="135.28" width="2.0" height="2.0"/><rect x="411.31" y="133.95" width="2.0" height="2.0"/><rect x="464.58" y="76.7" width="2.0" height="2.0"/><rect x="443.45" y="82.18" width="2.0" height="2.0"/><rect x="454" y="82" width="2.0" height="2.0"/><rect x="426.53" y="93.69" width="2.0" height="2.0"/><rect x="406.52" y="133.62" width="2.0" height="2.0"/><rect x="433.63" y="93.05" width="2.0" height="2.0"/><rect x="544.17" y="68.39" width="2.0" height="2.0"/><rect x="447.53" y="79.54" width="2.0" height="2.0"/><rect x="418.46" y="115.84" width="2.0" height="2.0"/><rect x="428.56" y="88.67" width="2.0" height="2.0"/><rect x="413.47" y="118.67" width="2.0" height="2.0"/><rect x="418.96" y="120.63" width="2.0" height="2.0"/><rect x="430.5" y="85.96" width="2.0" height="2.0"/><rect x="502.29" y="73.01" width="2.0" height="2.0"/><rect x="431.76" y="90.04" width="2.0" height="2.0"/><rect x="434.15" y="83.92" width="2.0" height="2.0"/><rect x="448.56" y="81.53" width="2.0" height="2.0"/><rect x="538.6" y="71.72" width="2.0" height="2.0"/><rect x="429.91" y="104.93" width="2.0" height="2.0"/><rect x="535.24" y="69.17" width="2.0" height="2.0"/><rect x="417.21" y="120.6" width="2.0" height="2.0"/><rect x="386.99" y="136.71" width="2.0" height="2.0"/><rect x="416.52" y="117.64" width="2.0" height="2.0"/><rect x="432.87" y="90.56" width="2.0" height="2.0"/><rect x="434.36" y="92.34" width="2.0" height="2.0"/><rect x="392.89" y="136.2" width="2.0" height="2.0"/><rect x="523.57" y="69.33" width="2.0" height="2.0"/><rect x="429.87" y="88.78" width="2.0" height="2.0"/><rect x="442.63" y="85.47" width="2.0" height="2.0"/><rect x="429.53" y="99.41" width="2.0" height="2.0"/><rect x="454.02" y="75.88" width="2.0" height="2.0"/><rect x="410.03" y="132.06" width="2.0" height="2.0"/><rect x="544.08" y="70.28" width="2.0" height="2.0"/><rect x="487.13" y="73.46" width="2.0" height="2.0"/><rect x="422.53" y="116.95" width="2.0" height="2.0"/><rect x="419.65" y="106.85" width="2.0" height="2.0"/><rect x="415.22" y="124.61" width="2.0" height="2.0"/><rect x="478.71" y="74.21" width="2.0" height="2.0"/><rect x="485.21" y="75.03" width="2.0" height="2.0"/><rect x="420.19" y="110.19" width="2.0" height="2.0"/><rect x="488.01" y="74.67" width="2.0" height="2.0"/><rect x="374" y="135.2" width="2.0" height="2.0"/><rect x="378" y="136" width="2.0" height="2.0"/></g>
<g fill="#0072bd" fill-opacity="0.22"><path d="M411.49 124.97L412.89 126.37L411.49 127.77L410.09 126.37Z"/><path d="M521.64 68.39L523.04 69.79L521.64 71.19L520.24 69.79Z"/><path d="M402.28 133.09L403.68 134.49L402.28 135.89L400.88 134.49Z"/><path d="M434.57 90.28L435.97 91.68L434.57 93.08L433.17 91.68Z"/><path d="M426.95 91.45L428.35 92.85L426.95 94.25L425.55 92.85Z"/><path d="M430.87 87.53L432.27 88.93L430.87 90.33L429.47 88.93Z"/><path d="M418.53 122.2L419.93 123.6L418.53 125L417.13 123.6Z"/><path d="M415.35 114.74L416.75 116.14L415.35 117.54L413.95 116.14Z"/><path d="M418.6 126.52L420 127.92L418.6 129.32L417.2 127.92Z"/><path d="M422.49 107.75L423.89 109.15L422.49 110.55L421.09 109.15Z"/><path d="M455.57 74.88L456.97 76.28L455.57 77.68L454.17 76.28Z"/><path d="M462.91 78.4L464.31 79.8L462.91 81.2L461.51 79.8Z"/><path d="M412.2 130.46L413.6 131.86L412.2 133.26L410.8 131.86Z"/><path d="M415.4 122.22L416.8 123.62L415.4 125.02L414 123.62Z"/><path d="M395.27 135.57L396.67 136.97L395.27 138.37L393.87 136.97Z"/><path d="M404.52 134.64L405.92 136.04L404.52 137.44L403.12 136.04Z"/><path d="M408.53 130.41L409.93 131.81L408.53 133.21L407.13 131.81Z"/><path d="M418 117.35L419.4 118.75L418 120.15L416.6 118.75Z"/><path d="M401.33 134.63L402.73 136.03L401.33 137.43L399.93 136.03Z"/><path d="M415.53 123.89L416.93 125.29L415.53 126.69L414.13 125.29Z"/><path d="M388.85 134.64L390.25 136.04L388.85 137.44L387.45 136.04Z"/><path d="M396.48 135.11L397.88 136.51L396.48 137.91L395.08 136.51Z"/><path d="M409.86 134.93L411.26 136.33L409.86 137.73L408.46 136.33Z"/><path d="M401.71 132.99L403.11 134.39L401.71 135.79L400.31 134.39Z"/><path d="M496.82 69.89L498.22 71.29L496.82 72.69L495.42 71.29Z"/><path d="M421.8 120.3L423.2 121.7L421.8 123.1L420.4 121.7Z"/><path d="M413.18 126.42L414.58 127.82L413.18 129.22L411.78 127.82Z"/><path d="M433.39 89.27L434.79 90.67L433.39 92.07L431.99 90.67Z"/><path d="M421.82 107.6L423.22 109L421.82 110.4L420.42 109Z"/><path d="M413.86 121.1L415.26 122.5L413.86 123.9L412.46 122.5Z"/><path d="M399.56 133.75L400.96 135.15L399.56 136.55L398.16 135.15Z"/><path d="M394.06 135.05L395.46 136.45L394.06 137.85L392.66 136.45Z"/><path d="M407.6 129.41L409 130.81L407.6 132.21L406.2 130.81Z"/><path d="M429.05 93.82L430.45 95.22L429.05 96.62L427.65 95.22Z"/><path d="M495.66 74.05L497.06 75.45L495.66 76.85L494.26 75.45Z"/><path d="M396.48 135.07L397.88 136.47L396.48 137.87L395.08 136.47Z"/><path d="M537.33 70.83L538.73 72.23L537.33 73.63L535.93 72.23Z"/><path d="M427.62 94.81L429.02 96.21L427.62 97.61L426.22 96.21Z"/><path d="M406.89 132.9L408.29 134.3L406.89 135.7L405.49 134.3Z"/><path d="M439.85 90.36L441.25 91.76L439.85 93.16L438.45 91.76Z"/><path d="M419.73 114.2L421.13 115.6L419.73 117L418.33 115.6Z"/><path d="M425.96 95.58L427.36 96.98L425.96 98.38L424.56 96.98Z"/><path d="M433.63 90.46L435.03 91.86L433.63 93.26L432.23 91.86Z"/><path d="M439.71 88.77L441.11 90.17L439.71 91.57L438.31 90.17Z"/><path d="M395.52 134.79L396.92 136.19L395.52 137.59L394.12 136.19Z"/><path d="M391.8 135.16L393.2 136.56L391.8 137.96L390.4 136.56Z"/><path d="M536.75 66.51L538.15 67.91L536.75 69.31L535.35 67.91Z"/><path d="M416.99 115.06L418.39 116.46L416.99 117.86L415.59 116.46Z"/><path d="M410.69 135.77L412.09 137.17L410.69 138.57L409.29 137.17Z"/><path d="M424.17 95.57L425.57 96.97L424.17 98.37L422.77 96.97Z"/><path d="M421.76 114.18L423.16 115.58L421.76 116.98L420.36 115.58Z"/><path d="M427.98 110.23L429.38 111.63L427.98 113.03L426.58 111.63Z"/><path d="M509.92 68.6L511.32 70L509.92 71.4L508.52 70Z"/><path d="M426.7 106.94L428.1 108.34L426.7 109.74L425.3 108.34Z"/><path d="M421.49 116.72L422.89 118.12L421.49 119.52L420.09 118.12Z"/><path d="M408.16 128.79L409.56 130.19L408.16 131.59L406.76 130.19Z"/><path d="M538.84 69.18L540.24 70.58L538.84 71.98L537.44 70.58Z"/><path d="M387.93 133.37L389.33 134.77L387.93 136.17L386.53 134.77Z"/><path d="M428.46 109.42L429.86 110.82L428.46 112.22L427.06 110.82Z"/><path d="M502.95 71.47L504.35 72.87L502.95 74.27L501.55 72.87Z"/><path d="M410.29 135.88L411.69 137.28L410.29 138.68L408.89 137.28Z"/><path d="M415.34 126.87L416.74 128.27L415.34 129.67L413.94 128.27Z"/><path d="M407.13 132.32L408.53 133.72L407.13 135.12L405.73 133.72Z"/><path d="M451.54 83.25L452.94 84.65L451.54 86.05L450.14 84.65Z"/><path d="M454.78 79.03L456.18 80.43L454.78 81.83L453.38 80.43Z"/><path d="M434.9 85.91L436.3 87.31L434.9 88.71L433.5 87.31Z"/><path d="M439.55 81.62L440.95 83.02L439.55 84.42L438.15 83.02Z"/><path d="M532.54 72.05L533.94 73.45L532.54 74.85L531.14 73.45Z"/><path d="M471.97 75.39L473.37 76.79L471.97 78.19L470.57 76.79Z"/><path d="M449.94 79.42L451.34 80.82L449.94 82.22L448.54 80.82Z"/><path d="M432.11 96.99L433.51 98.39L432.11 99.79L430.71 98.39Z"/><path d="M427.37 94.85L428.77 96.25L427.37 97.65L425.97 96.25Z"/><path d="M484.97 70.15L486.37 71.55L484.97 72.95L483.57 71.55Z"/><path d="M411.89 122.71L413.29 124.11L411.89 125.51L410.49 124.11Z"/><path d="M491.66 73.55L493.06 74.95L491.66 76.35L490.26 74.95Z"/><path d="M390.48 135.13L391.88 136.53L390.48 137.93L389.08 136.53Z"/><path d="M465 75.17L466.4 76.57L465 77.97L463.6 76.57Z"/><path d="M405.79 134.12L407.19 135.52L405.79 136.92L404.39 135.52Z"/><path d="M456.08 75.19L457.48 76.59L456.08 77.99L454.68 76.59Z"/><path d="M417.6 111.79L419 113.19L417.6 114.59L416.2 113.19Z"/><path d="M484.36 69.13L485.76 70.53L484.36 71.93L482.96 70.53Z"/><path d="M398.45 135.05L399.85 136.45L398.45 137.85L397.05 136.45Z"/><path d="M528.51 67.99L529.91 69.39L528.51 70.79L527.11 69.39Z"/><path d="M423.27 102.9L424.67 104.3L423.27 105.7L421.87 104.3Z"/><path d="M521.39 69.17L522.79 70.57L521.39 71.97L519.99 70.57Z"/><path d="M430.47 95.75L431.87 97.15L430.47 98.55L429.07 97.15Z"/><path d="M427.11 109.48L428.51 110.88L427.11 112.28L425.71 110.88Z"/><path d="M415.93 125.28L417.33 126.68L415.93 128.08L414.53 126.68Z"/><path d="M441.62 83.58L443.02 84.98L441.62 86.38L440.22 84.98Z"/><path d="M426.95 100.09L428.35 101.49L426.95 102.89L425.55 101.49Z"/><path d="M426.21 96.81L427.61 98.21L426.21 99.61L424.81 98.21Z"/><path d="M412.53 121.36L413.93 122.76L412.53 124.16L411.13 122.76Z"/><path d="M414.13 123.62L415.53 125.02L414.13 126.42L412.73 125.02Z"/><path d="M416.27 118.17L417.67 119.57L416.27 120.97L414.87 119.57Z"/><path d="M434.38 95.02L435.78 96.42L434.38 97.82L432.98 96.42Z"/><path d="M409.86 128.49L411.26 129.89L409.86 131.29L408.46 129.89Z"/><path d="M397.39 134.85L398.79 136.25L397.39 137.65L395.99 136.25Z"/><path d="M430.27 89.59L431.67 90.99L430.27 92.39L428.87 90.99Z"/><path d="M418.96 108.61L420.36 110.01L418.96 111.41L417.56 110.01Z"/><path d="M431.41 88.48L432.81 89.88L431.41 91.28L430.01 89.88Z"/><path d="M410.54 132.81L411.94 134.21L410.54 135.61L409.14 134.21Z"/><path d="M412.77 127.16L414.17 128.56L412.77 129.96L411.37 128.56Z"/><path d="M514.06 71.92L515.46 73.32L514.06 74.72L512.66 73.32Z"/><path d="M497.85 68.2L499.25 69.6L497.85 71L496.45 69.6Z"/><path d="M425.01 95.68L426.41 97.08L425.01 98.48L423.61 97.08Z"/><path d="M461.45 78.69L462.85 80.09L461.45 81.49L460.05 80.09Z"/><path d="M399.24 134.35L400.64 135.75L399.24 137.15L397.84 135.75Z"/><path d="M541.95 70.12L543.35 71.52L541.95 72.92L540.55 71.52Z"/><path d="M426.18 93.91L427.58 95.31L426.18 96.71L424.78 95.31Z"/><path d="M451.33 79.68L452.73 81.08L451.33 82.48L449.93 81.08Z"/><path d="M515.42 71.9L516.82 73.3L515.42 74.7L514.02 73.3Z"/><path d="M429.42 94.23L430.82 95.63L429.42 97.03L428.02 95.63Z"/><path d="M403.76 134.37L405.16 135.77L403.76 137.17L402.36 135.77Z"/><path d="M456.99 75.98L458.39 77.38L456.99 78.78L455.59 77.38Z"/><path d="M390.57 135.42L391.97 136.82L390.57 138.22L389.17 136.82Z"/><path d="M418.08 116.28L419.48 117.68L418.08 119.08L416.68 117.68Z"/><path d="M427.03 91.72L428.43 93.12L427.03 94.52L425.63 93.12Z"/><path d="M388.73 135.2L390.13 136.6L388.73 138L387.33 136.6Z"/><path d="M543.27 66.41L544.67 67.81L543.27 69.21L541.87 67.81Z"/><path d="M421.23 108.69L422.63 110.09L421.23 111.49L419.83 110.09Z"/><path d="M400.88 133.86L402.28 135.26L400.88 136.66L399.48 135.26Z"/><path d="M471.27 76.53L472.67 77.93L471.27 79.33L469.87 77.93Z"/><path d="M425.8 93.42L427.2 94.82L425.8 96.22L424.4 94.82Z"/><path d="M393.28 134.2L394.68 135.6L393.28 137L391.88 135.6Z"/><path d="M412.19 120.63L413.59 122.03L412.19 123.43L410.79 122.03Z"/><path d="M441.3 88.75L442.7 90.15L441.3 91.55L439.9 90.15Z"/><path d="M432.76 100.52L434.16 101.92L432.76 103.32L431.36 101.92Z"/><path d="M420.92 119.87L422.32 121.27L420.92 122.67L419.52 121.27Z"/><path d="M389.77 136.32L391.17 137.72L389.77 139.12L388.37 137.72Z"/><path d="M486.39 69.27L487.79 70.67L486.39 72.07L484.99 70.67Z"/><path d="M414.08 127.45L415.48 128.85L414.08 130.25L412.68 128.85Z"/><path d="M424.17 117.54L425.57 118.94L424.17 120.34L422.77 118.94Z"/><path d="M429.04 87.48L430.44 88.88L429.04 90.28L427.64 88.88Z"/><path d="M436.57 82.94L437.97 84.34L436.57 85.74L435.17 84.34Z"/><path d="M421.99 115.38L423.39 116.78L421.99 118.18L420.59 116.78Z"/><path d="M456.65 77.79L458.05 79.19L456.65 80.59L455.25 79.19Z"/><path d="M413.85 123.37L415.25 124.77L413.85 126.17L412.45 124.77Z"/><path d="M434.64 91.27L436.04 92.67L434.64 94.07L433.24 92.67Z"/><path d="M454.49 80.17L455.89 81.57L454.49 82.97L453.09 81.57Z"/><path d="M388.76 136.31L390.16 137.71L388.76 139.11L387.36 137.71Z"/><path d="M445.75 80.92L447.15 82.32L445.75 83.72L444.35 82.32Z"/><path d="M398.54 134.14L399.94 135.54L398.54 136.94L397.14 135.54Z"/><path d="M406.22 132.83L407.62 134.23L406.22 135.63L404.82 134.23Z"/><path d="M470.4 75.08L471.8 76.48L470.4 77.88L469 76.48Z"/><path d="M419.96 120.39L421.36 121.79L419.96 123.19L418.56 121.79Z"/><path d="M430.55 91.42L431.95 92.82L430.55 94.22L429.15 92.82Z"/><path d="M415.8 115.39L417.2 116.79L415.8 118.19L414.4 116.79Z"/><path d="M423.95 114.77L425.35 116.17L423.95 117.57L422.55 116.17Z"/><path d="M424.8 109.46L426.2 110.86L424.8 112.26L423.4 110.86Z"/><path d="M427.99 91.62L429.39 93.02L427.99 94.42L426.59 93.02Z"/><path d="M429.18 90.71L430.58 92.11L429.18 93.51L427.78 92.11Z"/><path d="M414.26 132.09L415.66 133.49L414.26 134.89L412.86 133.49Z"/><path d="M408.44 133.13L409.84 134.53L408.44 135.93L407.04 134.53Z"/><path d="M433.6 91.84L435 93.24L433.6 94.64L432.2 93.24Z"/><path d="M415.77 125.96L417.17 127.36L415.77 128.76L414.37 127.36Z"/><path d="M424.33 96.09L425.73 97.49L424.33 98.89L422.93 97.49Z"/><path d="M444.06 84.43L445.46 85.83L444.06 87.23L442.66 85.83Z"/><path d="M498.45 72.35L499.85 73.75L498.45 75.15L497.05 73.75Z"/><path d="M457.61 76.91L459.01 78.31L457.61 79.71L456.21 78.31Z"/><path d="M422.03 102.16L423.43 103.56L422.03 104.96L420.63 103.56Z"/><path d="M388.47 135.48L389.87 136.88L388.47 138.28L387.07 136.88Z"/><path d="M422.94 117.14L424.34 118.54L422.94 119.94L421.54 118.54Z"/><path d="M420.12 117.36L421.52 118.76L420.12 120.16L418.72 118.76Z"/><path d="M417.96 122.48L419.36 123.88L417.96 125.28L416.56 123.88Z"/><path d="M409.92 127.21L411.32 128.61L409.92 130.01L408.52 128.61Z"/><path d="M410.16 126.27L411.56 127.67L410.16 129.07L408.76 127.67Z"/><path d="M487.88 72.42L489.28 73.82L487.88 75.22L486.48 73.82Z"/><path d="M411.51 122.25L412.91 123.65L411.51 125.05L410.11 123.65Z"/><path d="M428.51 89.24L429.91 90.64L428.51 92.04L427.11 90.64Z"/><path d="M442.93 87.55L444.33 88.95L442.93 90.35L441.53 88.95Z"/><path d="M410.07 135.49L411.47 136.89L410.07 138.29L408.67 136.89Z"/><path d="M389.97 133.37L391.37 134.77L389.97 136.17L388.57 134.77Z"/><path d="M470.41 75.99L471.81 77.39L470.41 78.79L469.01 77.39Z"/><path d="M427.26 97.72L428.66 99.12L427.26 100.52L425.86 99.12Z"/><path d="M411.84 124.36L413.24 125.76L411.84 127.16L410.44 125.76Z"/><path d="M422.92 107.56L424.32 108.96L422.92 110.36L421.52 108.96Z"/><path d="M445.98 83.24L447.38 84.64L445.98 86.04L444.58 84.64Z"/><path d="M518.84 67.55L520.24 68.95L518.84 70.35L517.44 68.95Z"/><path d="M419.2 118.48L420.6 119.88L419.2 121.28L417.8 119.88Z"/><path d="M471.94 75.88L473.34 77.28L471.94 78.68L470.54 77.28Z"/><path d="M390.08 136.32L391.48 137.72L390.08 139.12L388.68 137.72Z"/><path d="M392.31 135.16L393.71 136.56L392.31 137.96L390.91 136.56Z"/><path d="M415.77 133.77L417.17 135.17L415.77 136.57L414.37 135.17Z"/><path d="M397.63 135.46L399.03 136.86L397.63 138.26L396.23 136.86Z"/><path d="M421.46 110.14L422.86 111.54L421.46 112.94L420.06 111.54Z"/><path d="M418.69 113.85L420.09 115.25L418.69 116.65L417.29 115.25Z"/><path d="M501.21 72.42L502.61 73.82L501.21 75.22L499.81 73.82Z"/><path d="M539.42 67.78L540.82 69.18L539.42 70.58L538.02 69.18Z"/><path d="M420.26 117.25L421.66 118.65L420.26 120.05L418.86 118.65Z"/><path d="M476.48 72.33L477.88 73.73L476.48 75.13L475.08 73.73Z"/><path d="M473.73 76.82L475.13 78.22L473.73 79.62L472.33 78.22Z"/><path d="M473.04 71.82L474.44 73.22L473.04 74.62L471.64 73.22Z"/><path d="M404.72 133.79L406.12 135.19L404.72 136.59L403.32 135.19Z"/><path d="M539.94 67.79L541.34 69.19L539.94 70.59L538.54 69.19Z"/><path d="M432.88 88.8L434.28 90.2L432.88 91.6L431.48 90.2Z"/><path d="M420.56 107.08L421.96 108.48L420.56 109.88L419.16 108.48Z"/><path d="M441.44 87.62L442.84 89.02L441.44 90.42L440.04 89.02Z"/><path d="M523.04 73L524.44 74.4L523.04 75.8L521.64 74.4Z"/><path d="M453.95 81.26L455.35 82.66L453.95 84.06L452.55 82.66Z"/><path d="M422.49 106.49L423.89 107.89L422.49 109.29L421.09 107.89Z"/><path d="M431.39 96.7L432.79 98.1L431.39 99.5L429.99 98.1Z"/><path d="M428.94 96.28L430.34 97.68L428.94 99.08L427.54 97.68Z"/><path d="M487.5 71.94L488.9 73.34L487.5 74.74L486.1 73.34Z"/><path d="M414.69 117.16L416.09 118.56L414.69 119.96L413.29 118.56Z"/><path d="M418.19 123.32L419.59 124.72L418.19 126.12L416.79 124.72Z"/><path d="M527.71 72.2L529.11 73.6L527.71 75L526.31 73.6Z"/><path d="M394.86 133.88L396.26 135.28L394.86 136.68L393.46 135.28Z"/><path d="M423.08 106.87L424.48 108.27L423.08 109.67L421.68 108.27Z"/><path d="M437.02 89.93L438.42 91.33L437.02 92.73L435.62 91.33Z"/><path d="M426.3 107.92L427.7 109.32L426.3 110.72L424.9 109.32Z"/><path d="M407.18 132.98L408.58 134.38L407.18 135.78L405.78 134.38Z"/><path d="M394.5 135.14L395.9 136.54L394.5 137.94L393.1 136.54Z"/><path d="M417.75 118.31L419.15 119.71L417.75 121.11L416.35 119.71Z"/><path d="M447.47 83.57L448.87 84.97L447.47 86.37L446.07 84.97Z"/><path d="M423.87 105.09L425.27 106.49L423.87 107.89L422.47 106.49Z"/><path d="M399.52 133.07L400.92 134.47L399.52 135.87L398.12 134.47Z"/><path d="M409.77 136.22L411.17 137.62L409.77 139.02L408.37 137.62Z"/><path d="M435.2 91.42L436.6 92.82L435.2 94.22L433.8 92.82Z"/><path d="M390.24 134.07L391.64 135.47L390.24 136.87L388.84 135.47Z"/><path d="M413.95 117.81L415.35 119.21L413.95 120.61L412.55 119.21Z"/><path d="M427.16 97.21L428.56 98.61L427.16 100.01L425.76 98.61Z"/><path d="M438.6 87.74L440 89.14L438.6 90.54L437.2 89.14Z"/><path d="M532.71 71.59L534.11 72.99L532.71 74.39L531.31 72.99Z"/><path d="M491.47 69.57L492.87 70.97L491.47 72.37L490.07 70.97Z"/><path d="M520.38 70.43L521.78 71.83L520.38 73.23L518.98 71.83Z"/><path d="M504.09 71.53L505.49 72.93L504.09 74.33L502.69 72.93Z"/><path d="M434.18 92.77L435.58 94.17L434.18 95.57L432.78 94.17Z"/><path d="M483.67 74.96L485.07 76.36L483.67 77.76L482.27 76.36Z"/><path d="M414.76 133.57L416.16 134.97L414.76 136.37L413.36 134.97Z"/><path d="M428.84 96.99L430.24 98.39L428.84 99.79L427.44 98.39Z"/><path d="M426.91 107.12L428.31 108.52L426.91 109.92L425.51 108.52Z"/><path d="M444.89 86.9L446.29 88.3L444.89 89.7L443.49 88.3Z"/><path d="M421.03 119.64L422.43 121.04L421.03 122.44L419.63 121.04Z"/><path d="M393.57 134.11L394.97 135.51L393.57 136.91L392.17 135.51Z"/><path d="M484.47 72.12L485.87 73.52L484.47 74.92L483.07 73.52Z"/><path d="M392.67 134.56L394.07 135.96L392.67 137.36L391.27 135.96Z"/><path d="M406.59 134.77L407.99 136.17L406.59 137.57L405.19 136.17Z"/><path d="M392.65 134.71L394.05 136.11L392.65 137.51L391.25 136.11Z"/><path d="M405.59 132.09L406.99 133.49L405.59 134.89L404.19 133.49Z"/><path d="M453.53 76.93L454.93 78.33L453.53 79.73L452.13 78.33Z"/><path d="M414.66 114.1L416.06 115.5L414.66 116.9L413.26 115.5Z"/><path d="M409.41 134.9L410.81 136.3L409.41 137.7L408.01 136.3Z"/><path d="M417.51 111.17L418.91 112.57L417.51 113.97L416.11 112.57Z"/><path d="M435.97 86.48L437.37 87.88L435.97 89.28L434.57 87.88Z"/><path d="M519.24 68.01L520.64 69.41L519.24 70.81L517.84 69.41Z"/><path d="M438.14 89.26L439.54 90.66L438.14 92.06L436.74 90.66Z"/><path d="M456.25 77.33L457.65 78.73L456.25 80.13L454.85 78.73Z"/><path d="M412.99 129.82L414.39 131.22L412.99 132.62L411.59 131.22Z"/><path d="M421.95 107.23L423.35 108.63L421.95 110.03L420.55 108.63Z"/><path d="M433.5 89.02L434.9 90.42L433.5 91.82L432.1 90.42Z"/><path d="M403.14 134.48L404.54 135.88L403.14 137.28L401.74 135.88Z"/><path d="M413.58 119.72L414.98 121.12L413.58 122.52L412.18 121.12Z"/><path d="M426.02 97.94L427.42 99.34L426.02 100.74L424.62 99.34Z"/><path d="M467.28 75.71L468.68 77.11L467.28 78.51L465.88 77.11Z"/><path d="M419.51 117.56L420.91 118.96L419.51 120.36L418.11 118.96Z"/><path d="M443.31 81.72L444.71 83.12L443.31 84.52L441.91 83.12Z"/><path d="M444.46 84.42L445.86 85.82L444.46 87.22L443.06 85.82Z"/><path d="M544.64 67.68L546.04 69.08L544.64 70.48L543.24 69.08Z"/><path d="M466.12 72.8L467.52 74.2L466.12 75.6L464.72 74.2Z"/><path d="M375.3 135.1L376.7 136.5L375.3 137.9L373.9 136.5Z"/><path d="M383 135.2L384.4 136.6L383 138L381.6 136.6Z"/></g>
<g fill="#0072bd" fill-opacity="0.3"><path d="M370.3 143.2L371.8 144.7L370.3 146.2L368.8 144.7Z"/></g>
<g fill="#0072bd"><circle cx="387.49" cy="136.6" r="1.15"/><circle cx="388.75" cy="135.99" r="1.15"/><circle cx="391.28" cy="136.75" r="1.15"/><circle cx="392.3" cy="136.03" r="1.15"/><circle cx="394.23" cy="136.89" r="1.15"/><circle cx="396.84" cy="136.24" r="1.15"/><circle cx="398.25" cy="135.56" r="1.15"/><circle cx="400.51" cy="136.05" r="1.15"/><circle cx="402.04" cy="135.1" r="1.15"/><circle cx="403.19" cy="134.65" r="1.15"/><circle cx="405.76" cy="133.03" r="1.15"/><circle cx="409.81" cy="129.43" r="1.15"/><circle cx="410.02" cy="128.22" r="1.15"/><circle cx="410.66" cy="125.87" r="1.15"/><circle cx="411.34" cy="123.8" r="1.15"/><circle cx="413.17" cy="120.19" r="1.15"/><circle cx="413.75" cy="117.64" r="1.15"/><circle cx="416.46" cy="115.55" r="1.15"/><circle cx="417.39" cy="114.13" r="1.15"/><circle cx="418.4" cy="111.88" r="1.15"/><circle cx="419.36" cy="110.45" r="1.15"/><circle cx="420.67" cy="108.59" r="1.15"/><circle cx="422.12" cy="105.81" r="1.15"/><circle cx="422.38" cy="103.62" r="1.15"/><circle cx="423.58" cy="102.17" r="1.15"/><circle cx="424.02" cy="99.4" r="1.15"/><circle cx="423.98" cy="97.25" r="1.15"/><circle cx="424.57" cy="97.06" r="1.15"/><circle cx="424.47" cy="95.11" r="1.15"/><circle cx="425.8" cy="94.61" r="1.15"/><circle cx="426.08" cy="95.46" r="1.15"/><circle cx="426.27" cy="95.3" r="1.15"/><circle cx="427" cy="94.95" r="1.15"/><circle cx="426.96" cy="92.08" r="1.15"/><circle cx="427.56" cy="92.19" r="1.15"/><circle cx="427.92" cy="93.66" r="1.15"/><circle cx="429.2" cy="90.27" r="1.15"/><circle cx="429.43" cy="90.42" r="1.15"/><circle cx="430.27" cy="91.56" r="1.15"/><circle cx="430.34" cy="89.87" r="1.15"/><circle cx="431.07" cy="90.22" r="1.15"/><circle cx="431.62" cy="90.17" r="1.15"/><circle cx="432.13" cy="88.97" r="1.15"/><circle cx="432.4" cy="88.94" r="1.15"/><circle cx="433" cy="88.4" r="1.15"/><circle cx="433.41" cy="87.85" r="1.15"/><circle cx="433.5" cy="87.78" r="1.15"/><circle cx="434.25" cy="86.01" r="1.15"/><circle cx="434.47" cy="87.2" r="1.15"/><circle cx="434.85" cy="87.16" r="1.15"/><circle cx="435.46" cy="84.38" r="1.15"/><circle cx="436.16" cy="83.76" r="1.15"/><circle cx="436.91" cy="83.37" r="1.15"/><circle cx="437.17" cy="84.15" r="1.15"/><circle cx="437.3" cy="83.74" r="1.15"/><circle cx="437.91" cy="82.76" r="1.15"/><circle cx="438.35" cy="84.08" r="1.15"/><circle cx="439" cy="84.43" r="1.15"/><circle cx="439.44" cy="82.98" r="1.15"/><circle cx="440.05" cy="83.45" r="1.15"/><circle cx="440.41" cy="83.21" r="1.15"/><circle cx="441.15" cy="80.95" r="1.15"/><circle cx="441.85" cy="82.49" r="1.15"/><circle cx="442.48" cy="80.87" r="1.15"/><circle cx="443.14" cy="81.79" r="1.15"/><circle cx="443.62" cy="81.12" r="1.15"/><circle cx="443.9" cy="79.82" r="1.15"/><circle cx="444.85" cy="81.45" r="1.15"/><circle cx="445.27" cy="80.4" r="1.15"/><circle cx="445.58" cy="79.68" r="1.15"/><circle cx="446.23" cy="81.96" r="1.15"/><circle cx="447.34" cy="81.39" r="1.15"/><circle cx="447.97" cy="81.37" r="1.15"/><circle cx="447.89" cy="79.76" r="1.15"/><circle cx="448.48" cy="78.63" r="1.15"/><circle cx="448.8" cy="79.07" r="1.15"/><circle cx="449.76" cy="78.66" r="1.15"/><circle cx="450.22" cy="78.1" r="1.15"/><circle cx="450.55" cy="78.38" r="1.15"/><circle cx="451.44" cy="78.34" r="1.15"/><circle cx="452.28" cy="79.79" r="1.15"/><circle cx="452.98" cy="80.42" r="1.15"/><circle cx="453.11" cy="78.86" r="1.15"/><circle cx="454.19" cy="78.21" r="1.15"/><circle cx="454.75" cy="79.71" r="1.15"/><circle cx="454.86" cy="77.47" r="1.15"/><circle cx="455.69" cy="78.55" r="1.15"/><circle cx="456.44" cy="78.72" r="1.15"/><circle cx="457.24" cy="78.16" r="1.15"/><circle cx="457.74" cy="79.15" r="1.15"/><circle cx="458.19" cy="76.91" r="1.15"/><circle cx="458.93" cy="76.8" r="1.15"/><circle cx="459.4" cy="78" r="1.15"/><circle cx="460.02" cy="78.11" r="1.15"/><circle cx="460.77" cy="78.26" r="1.15"/><circle cx="460.96" cy="78.83" r="1.15"/><circle cx="461.34" cy="77.76" r="1.15"/><circle cx="462.26" cy="76.71" r="1.15"/><circle cx="462.59" cy="78.18" r="1.15"/><circle cx="463.63" cy="75.5" r="1.15"/><circle cx="464.38" cy="75.81" r="1.15"/><circle cx="464.54" cy="76.3" r="1.15"/><circle cx="464.54" cy="76.49" r="1.15"/><circle cx="465.45" cy="76.96" r="1.15"/><circle cx="466.08" cy="77.06" r="1.15"/><circle cx="466.8" cy="74.72" r="1.15"/><circle cx="467.82" cy="74.89" r="1.15"/><circle cx="468.14" cy="76.98" r="1.15"/><circle cx="468.47" cy="76.41" r="1.15"/><circle cx="469.05" cy="75.17" r="1.15"/><circle cx="469.84" cy="76.08" r="1.15"/><circle cx="470.23" cy="73.67" r="1.15"/><circle cx="470.9" cy="76.78" r="1.15"/><circle cx="471.72" cy="73.93" r="1.15"/><circle cx="472.08" cy="74.22" r="1.15"/><circle cx="472.84" cy="76.27" r="1.15"/><circle cx="473.37" cy="73.46" r="1.15"/><circle cx="473.86" cy="74.84" r="1.15"/><circle cx="474.5" cy="75.95" r="1.15"/><circle cx="475.17" cy="75.14" r="1.15"/><circle cx="475.93" cy="73.6" r="1.15"/><circle cx="476.51" cy="75.06" r="1.15"/><circle cx="476.81" cy="73.7" r="1.15"/><circle cx="477.1" cy="72.89" r="1.15"/><circle cx="478.17" cy="75.09" r="1.15"/><circle cx="478.23" cy="72.22" r="1.15"/><circle cx="479.25" cy="74.57" r="1.15"/><circle cx="479.82" cy="72.3" r="1.15"/><circle cx="480.66" cy="72.94" r="1.15"/><circle cx="480.35" cy="74.52" r="1.15"/><circle cx="482.06" cy="73.49" r="1.15"/><circle cx="482.3" cy="72.26" r="1.15"/><circle cx="482.62" cy="74.06" r="1.15"/><circle cx="483.44" cy="74.27" r="1.15"/><circle cx="483.86" cy="73.69" r="1.15"/><circle cx="484.52" cy="71.74" r="1.15"/><circle cx="485.18" cy="73.35" r="1.15"/><circle cx="485.72" cy="72.76" r="1.15"/><circle cx="486.37" cy="72.82" r="1.15"/><circle cx="486.8" cy="71.72" r="1.15"/><circle cx="487.75" cy="73.95" r="1.15"/><circle cx="488.12" cy="70.93" r="1.15"/><circle cx="488.68" cy="72.6" r="1.15"/><circle cx="489.26" cy="73.87" r="1.15"/><circle cx="490.37" cy="73.72" r="1.15"/><circle cx="490.43" cy="73.65" r="1.15"/><circle cx="491.24" cy="73.32" r="1.15"/><circle cx="491.22" cy="73.26" r="1.15"/><circle cx="492.66" cy="72.97" r="1.15"/><circle cx="492.7" cy="72.14" r="1.15"/><circle cx="493.5" cy="73.23" r="1.15"/><circle cx="494.02" cy="72.24" r="1.15"/><circle cx="495" cy="73.52" r="1.15"/><circle cx="495.23" cy="71.05" r="1.15"/><circle cx="496.36" cy="72.85" r="1.15"/><circle cx="496.5" cy="71.37" r="1.15"/><circle cx="497.42" cy="72.38" r="1.15"/><circle cx="497.92" cy="70.39" r="1.15"/><circle cx="498.32" cy="72.29" r="1.15"/><circle cx="498.86" cy="71.74" r="1.15"/><circle cx="499.74" cy="71.89" r="1.15"/><circle cx="500.05" cy="70.98" r="1.15"/><circle cx="500.59" cy="70.65" r="1.15"/><circle cx="501.39" cy="71.33" r="1.15"/><circle cx="502.01" cy="72.31" r="1.15"/><circle cx="502.39" cy="73.09" r="1.15"/><circle cx="502.59" cy="70.57" r="1.15"/><circle cx="503.61" cy="70.72" r="1.15"/><circle cx="504.59" cy="70.22" r="1.15"/><circle cx="504.86" cy="72.46" r="1.15"/><circle cx="505.15" cy="72.17" r="1.15"/><circle cx="506.37" cy="70.41" r="1.15"/><circle cx="506.48" cy="71.28" r="1.15"/><circle cx="507.46" cy="70.35" r="1.15"/><circle cx="508.27" cy="72.5" r="1.15"/><circle cx="508.15" cy="72.28" r="1.15"/><circle cx="509.31" cy="69.53" r="1.15"/><circle cx="509.65" cy="70.15" r="1.15"/><circle cx="510.24" cy="69.69" r="1.15"/><circle cx="511" cy="69.6" r="1.15"/><circle cx="511.55" cy="71.97" r="1.15"/><circle cx="511.97" cy="72" r="1.15"/><circle cx="513.29" cy="69.95" r="1.15"/><circle cx="513.3" cy="69.5" r="1.15"/><circle cx="514.12" cy="71.45" r="1.15"/><circle cx="514.32" cy="72.11" r="1.15"/><circle cx="514.97" cy="69.34" r="1.15"/><circle cx="515.75" cy="71.12" r="1.15"/><circle cx="516.3" cy="70.04" r="1.15"/><circle cx="516.9" cy="70.85" r="1.15"/><circle cx="517.46" cy="70.79" r="1.15"/><circle cx="517.85" cy="70.78" r="1.15"/><circle cx="518.91" cy="71.7" r="1.15"/><circle cx="519.43" cy="70.08" r="1.15"/><circle cx="519.68" cy="72.39" r="1.15"/><circle cx="520.23" cy="72.13" r="1.15"/><circle cx="520.66" cy="70.24" r="1.15"/><circle cx="521.76" cy="69.44" r="1.15"/><circle cx="522.09" cy="70.51" r="1.15"/><circle cx="523.33" cy="71.52" r="1.15"/><circle cx="523.47" cy="69.58" r="1.15"/><circle cx="524.22" cy="69.33" r="1.15"/><circle cx="524.53" cy="71.2" r="1.15"/><circle cx="525.76" cy="71.41" r="1.15"/><circle cx="525.84" cy="71.2" r="1.15"/><circle cx="526.85" cy="70.68" r="1.15"/><circle cx="527.04" cy="72.13" r="1.15"/><circle cx="527.61" cy="72.09" r="1.15"/><circle cx="528.45" cy="69.38" r="1.15"/><circle cx="529.2" cy="69.03" r="1.15"/><circle cx="529.75" cy="71.43" r="1.15"/><circle cx="530.23" cy="69.21" r="1.15"/><circle cx="530.73" cy="71.4" r="1.15"/><circle cx="531.36" cy="68.85" r="1.15"/><circle cx="531.84" cy="71.29" r="1.15"/><circle cx="532.46" cy="71.57" r="1.15"/><circle cx="533.32" cy="68.8" r="1.15"/><circle cx="533.67" cy="71.1" r="1.15"/><circle cx="534.31" cy="70.82" r="1.15"/><circle cx="535.36" cy="71.68" r="1.15"/><circle cx="535.13" cy="71.76" r="1.15"/><circle cx="535.66" cy="70.27" r="1.15"/><circle cx="536.44" cy="69.73" r="1.15"/><circle cx="537.33" cy="71.12" r="1.15"/><circle cx="537.42" cy="68.99" r="1.15"/><circle cx="538.47" cy="69.87" r="1.15"/><circle cx="539.42" cy="70.76" r="1.15"/><circle cx="539.93" cy="69.9" r="1.15"/><circle cx="540.07" cy="70.45" r="1.15"/><circle cx="541.44" cy="70.47" r="1.15"/><circle cx="541.53" cy="70.88" r="1.15"/><circle cx="541.99" cy="70.13" r="1.15"/><circle cx="542.34" cy="68.76" r="1.15"/><circle cx="543.64" cy="70.26" r="1.15"/><circle cx="543.56" cy="71.38" r="1.15"/><circle cx="544.04" cy="68.82" r="1.15"/><circle cx="545.3" cy="69.11" r="1.15"/></g>
<g fill="#0072bd"><rect x="387.17" y="135.28" width="2.0" height="2.0"/><rect x="389.48" y="135.98" width="2.0" height="2.0"/><rect x="390.7" y="135.35" width="2.0" height="2.0"/><rect x="392.52" y="135.49" width="2.0" height="2.0"/><rect x="394.99" y="134.71" width="2.0" height="2.0"/><rect x="396.58" y="135.1" width="2.0" height="2.0"/><rect x="397.96" y="134.32" width="2.0" height="2.0"/><rect x="400.25" y="134.03" width="2.0" height="2.0"/><rect x="401.28" y="134.61" width="2.0" height="2.0"/><rect x="402.93" y="133.96" width="2.0" height="2.0"/><rect x="407.27" y="130.33" width="2.0" height="2.0"/><rect x="408.55" y="126.94" width="2.0" height="2.0"/><rect x="409.14" y="126.1" width="2.0" height="2.0"/><rect x="410.37" y="123.58" width="2.0" height="2.0"/><rect x="411.47" y="120.57" width="2.0" height="2.0"/><rect x="412.63" y="116.94" width="2.0" height="2.0"/><rect x="414.16" y="115.64" width="2.0" height="2.0"/><rect x="415.94" y="114.4" width="2.0" height="2.0"/><rect x="416.62" y="112.41" width="2.0" height="2.0"/><rect x="417.84" y="110.88" width="2.0" height="2.0"/><rect x="419.57" y="107.67" width="2.0" height="2.0"/><rect x="420.16" y="105.79" width="2.0" height="2.0"/><rect x="421.65" y="104.16" width="2.0" height="2.0"/><rect x="421.63" y="101.41" width="2.0" height="2.0"/><rect x="422.72" y="98.67" width="2.0" height="2.0"/><rect x="422.93" y="98.15" width="2.0" height="2.0"/><rect x="422.87" y="97.79" width="2.0" height="2.0"/><rect x="423.11" y="96.66" width="2.0" height="2.0"/><rect x="423.92" y="95.1" width="2.0" height="2.0"/><rect x="424.29" y="95.7" width="2.0" height="2.0"/><rect x="425" y="93.03" width="2.0" height="2.0"/><rect x="425.56" y="92.54" width="2.0" height="2.0"/><rect x="426.14" y="93.38" width="2.0" height="2.0"/><rect x="426.31" y="91.94" width="2.0" height="2.0"/><rect x="426.78" y="91.08" width="2.0" height="2.0"/><rect x="427.73" y="92.87" width="2.0" height="2.0"/><rect x="428.16" y="90.55" width="2.0" height="2.0"/><rect x="428.17" y="91.39" width="2.0" height="2.0"/><rect x="429.14" y="89.64" width="2.0" height="2.0"/><rect x="429.81" y="89.9" width="2.0" height="2.0"/><rect x="430.12" y="88.83" width="2.0" height="2.0"/><rect x="430.57" y="87.57" width="2.0" height="2.0"/><rect x="430.94" y="86.25" width="2.0" height="2.0"/><rect x="431.26" y="88.56" width="2.0" height="2.0"/><rect x="431.26" y="86.89" width="2.0" height="2.0"/><rect x="431.95" y="85.38" width="2.0" height="2.0"/><rect x="433.16" y="85.3" width="2.0" height="2.0"/><rect x="433.19" y="84.25" width="2.0" height="2.0"/><rect x="433.81" y="85.24" width="2.0" height="2.0"/><rect x="434.21" y="84.12" width="2.0" height="2.0"/><rect x="434.61" y="84.46" width="2.0" height="2.0"/><rect x="434.83" y="85.39" width="2.0" height="2.0"/><rect x="435.96" y="84.18" width="2.0" height="2.0"/><rect x="436.21" y="84.15" width="2.0" height="2.0"/><rect x="436.64" y="83.09" width="2.0" height="2.0"/><rect x="437.64" y="81.58" width="2.0" height="2.0"/><rect x="437.5" y="81.04" width="2.0" height="2.0"/><rect x="437.89" y="81.55" width="2.0" height="2.0"/><rect x="438.73" y="81.22" width="2.0" height="2.0"/><rect x="438.95" y="81.07" width="2.0" height="2.0"/><rect x="439.8" y="82" width="2.0" height="2.0"/><rect x="440.3" y="80.06" width="2.0" height="2.0"/><rect x="440.93" y="80.43" width="2.0" height="2.0"/><rect x="441.23" y="79.66" width="2.0" height="2.0"/><rect x="442.2" y="79.71" width="2.0" height="2.0"/><rect x="442.13" y="80.71" width="2.0" height="2.0"/><rect x="442.83" y="79.72" width="2.0" height="2.0"/><rect x="443.54" y="78.63" width="2.0" height="2.0"/><rect x="443.7" y="79.39" width="2.0" height="2.0"/><rect x="444.75" y="78.41" width="2.0" height="2.0"/><rect x="445.07" y="80.98" width="2.0" height="2.0"/><rect x="445.49" y="77.71" width="2.0" height="2.0"/><rect x="446.99" y="79.52" width="2.0" height="2.0"/><rect x="446.9" y="77.84" width="2.0" height="2.0"/><rect x="447.61" y="80.1" width="2.0" height="2.0"/><rect x="448.02" y="79" width="2.0" height="2.0"/><rect x="449.3" y="79.11" width="2.0" height="2.0"/><rect x="449.35" y="78.44" width="2.0" height="2.0"/><rect x="449.94" y="77.32" width="2.0" height="2.0"/><rect x="451.02" y="78.67" width="2.0" height="2.0"/><rect x="451.2" y="78.09" width="2.0" height="2.0"/><rect x="451.95" y="77.61" width="2.0" height="2.0"/><rect x="452.26" y="76.33" width="2.0" height="2.0"/><rect x="452.72" y="77" width="2.0" height="2.0"/><rect x="454.07" y="77.19" width="2.0" height="2.0"/><rect x="453.92" y="75.92" width="2.0" height="2.0"/><rect x="454.55" y="75.75" width="2.0" height="2.0"/><rect x="455.31" y="77.59" width="2.0" height="2.0"/><rect x="455.85" y="75.48" width="2.0" height="2.0"/><rect x="456.39" y="75.45" width="2.0" height="2.0"/><rect x="456.8" y="76.53" width="2.0" height="2.0"/><rect x="457.79" y="77.39" width="2.0" height="2.0"/><rect x="458.57" y="77.31" width="2.0" height="2.0"/><rect x="458.75" y="76.16" width="2.0" height="2.0"/><rect x="459.12" y="76.72" width="2.0" height="2.0"/><rect x="460.54" y="77.76" width="2.0" height="2.0"/><rect x="460.98" y="77.29" width="2.0" height="2.0"/><rect x="460.91" y="77.03" width="2.0" height="2.0"/><rect x="461.51" y="74.4" width="2.0" height="2.0"/><rect x="462.38" y="76.96" width="2.0" height="2.0"/><rect x="463.22" y="74.51" width="2.0" height="2.0"/><rect x="463.16" y="75.91" width="2.0" height="2.0"/><rect x="463.92" y="75.59" width="2.0" height="2.0"/><rect x="464.76" y="74.05" width="2.0" height="2.0"/><rect x="464.75" y="75.34" width="2.0" height="2.0"/><rect x="465.96" y="75.19" width="2.0" height="2.0"/><rect x="466.11" y="75.75" width="2.0" height="2.0"/><rect x="466.77" y="73.76" width="2.0" height="2.0"/><rect x="467.88" y="74.49" width="2.0" height="2.0"/><rect x="468.69" y="74.26" width="2.0" height="2.0"/><rect x="469.08" y="73.94" width="2.0" height="2.0"/><rect x="469.14" y="75.9" width="2.0" height="2.0"/><rect x="470.28" y="73.22" width="2.0" height="2.0"/><rect x="470.63" y="75.3" width="2.0" height="2.0"/><rect x="471.15" y="74.04" width="2.0" height="2.0"/><rect x="471.93" y="73.7" width="2.0" height="2.0"/><rect x="472.67" y="73.85" width="2.0" height="2.0"/><rect x="472.84" y="73.02" width="2.0" height="2.0"/><rect x="473.17" y="73.93" width="2.0" height="2.0"/><rect x="474.25" y="74.51" width="2.0" height="2.0"/><rect x="474.79" y="73.23" width="2.0" height="2.0"/><rect x="475.05" y="74.13" width="2.0" height="2.0"/><rect x="476.21" y="73.04" width="2.0" height="2.0"/><rect x="476.39" y="74.16" width="2.0" height="2.0"/><rect x="477.24" y="74.55" width="2.0" height="2.0"/><rect x="478.1" y="74.34" width="2.0" height="2.0"/><rect x="478.3" y="71.53" width="2.0" height="2.0"/><rect x="478.79" y="72.09" width="2.0" height="2.0"/><rect x="479.56" y="73.28" width="2.0" height="2.0"/><rect x="480.03" y="71.24" width="2.0" height="2.0"/><rect x="480.33" y="72.36" width="2.0" height="2.0"/><rect x="481.39" y="71.18" width="2.0" height="2.0"/><rect x="481.64" y="72.4" width="2.0" height="2.0"/><rect x="482.29" y="72.11" width="2.0" height="2.0"/><rect x="482.85" y="71.71" width="2.0" height="2.0"/><rect x="483.25" y="71.29" width="2.0" height="2.0"/><rect x="484.13" y="72.06" width="2.0" height="2.0"/><rect x="484.56" y="71.76" width="2.0" height="2.0"/><rect x="485.27" y="70.96" width="2.0" height="2.0"/><rect x="485.86" y="70.81" width="2.0" height="2.0"/><rect x="486.42" y="72.46" width="2.0" height="2.0"/><rect x="487.48" y="73.07" width="2.0" height="2.0"/><rect x="487.67" y="71.52" width="2.0" height="2.0"/><rect x="488.17" y="71.89" width="2.0" height="2.0"/><rect x="489.16" y="70.75" width="2.0" height="2.0"/><rect x="489.07" y="69.89" width="2.0" height="2.0"/><rect x="489.98" y="71.93" width="2.0" height="2.0"/><rect x="490.86" y="72.91" width="2.0" height="2.0"/><rect x="491.26" y="71.75" width="2.0" height="2.0"/><rect x="492.11" y="70.14" width="2.0" height="2.0"/><rect x="493.01" y="71.72" width="2.0" height="2.0"/><rect x="492.85" y="71.55" width="2.0" height="2.0"/><rect x="493.74" y="69.93" width="2.0" height="2.0"/><rect x="494.35" y="71.98" width="2.0" height="2.0"/><rect x="495.02" y="72.09" width="2.0" height="2.0"/><rect x="496.1" y="70.63" width="2.0" height="2.0"/><rect x="496.03" y="69.44" width="2.0" height="2.0"/><rect x="496.73" y="71.83" width="2.0" height="2.0"/><rect x="497.95" y="69.64" width="2.0" height="2.0"/><rect x="497.71" y="69.21" width="2.0" height="2.0"/><rect x="498.14" y="71.26" width="2.0" height="2.0"/><rect x="499.23" y="71.39" width="2.0" height="2.0"/><rect x="499.66" y="70.45" width="2.0" height="2.0"/><rect x="500.32" y="69.25" width="2.0" height="2.0"/><rect x="500.83" y="71.46" width="2.0" height="2.0"/><rect x="501.8" y="70.82" width="2.0" height="2.0"/><rect x="502.55" y="71.93" width="2.0" height="2.0"/><rect x="502.95" y="70.86" width="2.0" height="2.0"/><rect x="503.05" y="71.97" width="2.0" height="2.0"/><rect x="503.61" y="68.93" width="2.0" height="2.0"/><rect x="504.25" y="70.82" width="2.0" height="2.0"/><rect x="505.21" y="70.56" width="2.0" height="2.0"/><rect x="505.87" y="70.45" width="2.0" height="2.0"/><rect x="506.17" y="69.04" width="2.0" height="2.0"/><rect x="507.22" y="68.8" width="2.0" height="2.0"/><rect x="507.92" y="71.66" width="2.0" height="2.0"/><rect x="508.09" y="69.15" width="2.0" height="2.0"/><rect x="508.7" y="69.89" width="2.0" height="2.0"/><rect x="509.16" y="69.39" width="2.0" height="2.0"/><rect x="509.97" y="70.97" width="2.0" height="2.0"/><rect x="510.45" y="71.1" width="2.0" height="2.0"/><rect x="510.92" y="68.49" width="2.0" height="2.0"/><rect x="511.88" y="71.31" width="2.0" height="2.0"/><rect x="512.22" y="70.38" width="2.0" height="2.0"/><rect x="513.19" y="68.95" width="2.0" height="2.0"/><rect x="513.52" y="70.29" width="2.0" height="2.0"/><rect x="513.77" y="71.15" width="2.0" height="2.0"/><rect x="514.4" y="69.79" width="2.0" height="2.0"/><rect x="514.99" y="69.85" width="2.0" height="2.0"/><rect x="515.92" y="71.04" width="2.0" height="2.0"/><rect x="516.33" y="70.05" width="2.0" height="2.0"/><rect x="516.96" y="70.39" width="2.0" height="2.0"/><rect x="517.49" y="70.34" width="2.0" height="2.0"/><rect x="518.43" y="69.22" width="2.0" height="2.0"/><rect x="518.9" y="70.49" width="2.0" height="2.0"/><rect x="519.77" y="68.52" width="2.0" height="2.0"/><rect x="519.63" y="70.95" width="2.0" height="2.0"/><rect x="520.49" y="70.69" width="2.0" height="2.0"/><rect x="521.41" y="70.41" width="2.0" height="2.0"/><rect x="521.55" y="68.51" width="2.0" height="2.0"/><rect x="522.51" y="69.05" width="2.0" height="2.0"/><rect x="523.35" y="70.1" width="2.0" height="2.0"/><rect x="523.79" y="68.98" width="2.0" height="2.0"/><rect x="524.36" y="70.83" width="2.0" height="2.0"/><rect x="525.08" y="68.33" width="2.0" height="2.0"/><rect x="525.41" y="67.99" width="2.0" height="2.0"/><rect x="526.35" y="68.29" width="2.0" height="2.0"/><rect x="526.64" y="70.33" width="2.0" height="2.0"/><rect x="526.91" y="68.59" width="2.0" height="2.0"/><rect x="527.97" y="68.4" width="2.0" height="2.0"/><rect x="528.99" y="68.72" width="2.0" height="2.0"/><rect x="529.06" y="69.03" width="2.0" height="2.0"/><rect x="529.58" y="69.57" width="2.0" height="2.0"/><rect x="530.07" y="68.04" width="2.0" height="2.0"/><rect x="530.6" y="68.37" width="2.0" height="2.0"/><rect x="531.66" y="70.07" width="2.0" height="2.0"/><rect x="532.42" y="69.25" width="2.0" height="2.0"/><rect x="533.11" y="69.98" width="2.0" height="2.0"/><rect x="533.36" y="70" width="2.0" height="2.0"/><rect x="533.92" y="68.86" width="2.0" height="2.0"/><rect x="534.44" y="69.82" width="2.0" height="2.0"/><rect x="535.05" y="67.71" width="2.0" height="2.0"/><rect x="535.61" y="68.93" width="2.0" height="2.0"/><rect x="536.5" y="70.59" width="2.0" height="2.0"/><rect x="537.02" y="69.32" width="2.0" height="2.0"/><rect x="537.05" y="68.12" width="2.0" height="2.0"/><rect x="538" y="68.71" width="2.0" height="2.0"/><rect x="538.9" y="70.55" width="2.0" height="2.0"/><rect x="538.93" y="70.07" width="2.0" height="2.0"/><rect x="540.51" y="69.53" width="2.0" height="2.0"/><rect x="540.59" y="69.95" width="2.0" height="2.0"/><rect x="540.92" y="70.08" width="2.0" height="2.0"/><rect x="541.26" y="70.09" width="2.0" height="2.0"/><rect x="542.32" y="67.7" width="2.0" height="2.0"/><rect x="543.07" y="67.69" width="2.0" height="2.0"/><rect x="543.46" y="70.45" width="2.0" height="2.0"/><rect x="544" y="67.9" width="2.0" height="2.0"/></g>
<g fill="#ff0505" fill-opacity="0.3"><circle cx="50.2" cy="317" r="1.05"/><circle cx="53.6" cy="315.7" r="1.05"/><circle cx="63.2" cy="319.1" r="1.05"/><circle cx="74.8" cy="319.8" r="1.05"/><circle cx="78.9" cy="319.1" r="1.05"/><circle cx="84.3" cy="318.7" r="1.05"/><circle cx="51.8" cy="316.4" r="1.05"/><circle cx="62.7" cy="318.7" r="1.05"/><circle cx="93.3" cy="315.5" r="1.05"/><circle cx="96.6" cy="316" r="1.05"/><circle cx="126.6" cy="247.5" r="1.05"/><circle cx="129.9" cy="245.8" r="1.05"/><circle cx="135.7" cy="245" r="1.05"/><circle cx="138.2" cy="247.5" r="1.05"/><circle cx="142.4" cy="247" r="1.05"/><circle cx="145.7" cy="245.8" r="1.05"/><circle cx="153.2" cy="246.3" r="1.05"/><circle cx="158.2" cy="249.1" r="1.05"/><circle cx="124.1" cy="252" r="1.05"/><circle cx="126.6" cy="251.6" r="1.05"/><circle cx="129.1" cy="251.3" r="1.05"/><circle cx="132.4" cy="252.5" r="1.05"/><circle cx="134.9" cy="249.6" r="1.05"/><circle cx="149" cy="250.3" r="1.05"/><circle cx="122.5" cy="256.3" r="1.05"/><circle cx="127.9" cy="255.8" r="1.05"/><circle cx="129.9" cy="256.6" r="1.05"/><circle cx="133.3" cy="255.8" r="1.05"/><circle cx="139.1" cy="256.6" r="1.05"/><circle cx="143.2" cy="256.6" r="1.05"/><circle cx="147.4" cy="254.1" r="1.05"/><circle cx="152.9" cy="255.3" r="1.05"/><circle cx="129.1" cy="259.9" r="1.05"/><circle cx="149" cy="261.9" r="1.05"/><circle cx="128.3" cy="264.9" r="1.05"/><circle cx="134.6" cy="266.6" r="1.05"/><circle cx="123.3" cy="273.6" r="1.05"/><circle cx="141.6" cy="280.7" r="1.05"/><circle cx="117.5" cy="285.7" r="1.05"/><circle cx="133.3" cy="284" r="1.05"/><circle cx="130.3" cy="286.8" r="1.05"/><circle cx="125" cy="289.8" r="1.05"/><circle cx="121.6" cy="292.8" r="1.05"/><circle cx="124.1" cy="294.8" r="1.05"/><circle cx="127.4" cy="293.5" r="1.05"/><circle cx="134.9" cy="294.5" r="1.05"/><circle cx="116.6" cy="299" r="1.05"/><circle cx="120" cy="298.1" r="1.05"/><circle cx="128.3" cy="298.1" r="1.05"/><circle cx="113" cy="301" r="1.05"/><circle cx="117" cy="303" r="1.05"/><circle cx="121" cy="302.5" r="1.05"/><circle cx="110.5" cy="305" r="1.05"/><circle cx="114" cy="306.5" r="1.05"/><circle cx="118.5" cy="305.8" r="1.05"/><circle cx="106" cy="308.5" r="1.05"/><circle cx="109" cy="309.5" r="1.05"/><circle cx="112.5" cy="310.2" r="1.05"/><circle cx="103" cy="311" r="1.05"/><circle cx="106.5" cy="312" r="1.05"/><circle cx="101" cy="312.6" r="1.05"/><circle cx="108" cy="312.9" r="1.05"/><circle cx="111" cy="313.2" r="1.05"/><circle cx="116" cy="311.5" r="1.05"/><circle cx="136" cy="262" r="1.05"/><circle cx="140" cy="271" r="1.05"/><circle cx="145" cy="266" r="1.05"/><circle cx="137" cy="276" r="1.05"/><circle cx="131" cy="270" r="1.05"/><circle cx="126" cy="280" r="1.05"/><circle cx="119" cy="289" r="1.05"/><circle cx="115" cy="294" r="1.05"/><circle cx="132" cy="290" r="1.05"/><circle cx="139" cy="285" r="1.05"/><circle cx="144" cy="259" r="1.05"/><circle cx="155" cy="252" r="1.05"/><circle cx="150" cy="256" r="1.05"/><circle cx="158" cy="254" r="1.05"/><circle cx="146" cy="250" r="1.05"/><circle cx="104.4" cy="309.9" r="1.05"/><circle cx="106.6" cy="309.4" r="1.05"/><circle cx="108.8" cy="308.8" r="1.05"/><circle cx="111" cy="308.3" r="1.05"/><circle cx="113.3" cy="307.1" r="1.05"/><circle cx="114.4" cy="306.6" r="1.05"/><circle cx="116.6" cy="311" r="1.05"/><circle cx="119.9" cy="309.4" r="1.05"/><circle cx="121.6" cy="309.9" r="1.05"/><circle cx="117.7" cy="300" r="1.05"/><circle cx="118.8" cy="300.5" r="1.05"/><circle cx="115.5" cy="300" r="1.05"/><circle cx="120.5" cy="303.3" r="1.05"/><circle cx="123.9" cy="301.1" r="1.05"/><circle cx="124.4" cy="295.5" r="1.05"/><circle cx="122.2" cy="293.3" r="1.05"/><circle cx="125.5" cy="291.1" r="1.05"/><circle cx="124.9" cy="288.9" r="1.05"/><circle cx="117.2" cy="285.5" r="1.05"/><circle cx="129.4" cy="286.7" r="1.05"/><circle cx="127.8" cy="299" r="1.05"/><circle cx="125.5" cy="305.5" r="1.05"/><circle cx="120" cy="307" r="1.05"/><circle cx="112" cy="311.5" r="1.05"/><circle cx="109.5" cy="311.8" r="1.05"/><circle cx="192.31" cy="216.33" r="1.05"/><circle cx="199.71" cy="215.12" r="1.05"/><circle cx="153.76" cy="224.87" r="1.05"/><circle cx="140.93" cy="226.36" r="1.05"/><circle cx="140.8" cy="233.18" r="1.05"/><circle cx="266.9" cy="215.15" r="1.05"/><circle cx="220.56" cy="213.03" r="1.05"/><circle cx="202.81" cy="211.09" r="1.05"/><circle cx="155.24" cy="221.67" r="1.05"/><circle cx="190.4" cy="219.65" r="1.05"/><circle cx="201.01" cy="215.4" r="1.05"/><circle cx="192.71" cy="213.82" r="1.05"/><circle cx="269.42" cy="215.46" r="1.05"/><circle cx="172.21" cy="217.08" r="1.05"/><circle cx="168.93" cy="216.81" r="1.05"/><circle cx="247.49" cy="209.99" r="1.05"/><circle cx="263.77" cy="213.94" r="1.05"/><circle cx="256.8" cy="210.48" r="1.05"/><circle cx="267.1" cy="209.74" r="1.05"/><circle cx="238.35" cy="209.47" r="1.05"/><circle cx="140.82" cy="226.97" r="1.05"/><circle cx="144.58" cy="224.78" r="1.05"/><circle cx="142.35" cy="224.04" r="1.05"/><circle cx="206.96" cy="212.97" r="1.05"/><circle cx="155.27" cy="227.55" r="1.05"/><circle cx="144.8" cy="226.73" r="1.05"/><circle cx="158.65" cy="220.96" r="1.05"/><circle cx="170.94" cy="224.79" r="1.05"/><circle cx="158.08" cy="222.32" r="1.05"/><circle cx="141.86" cy="235.66" r="1.05"/><circle cx="158.21" cy="220.83" r="1.05"/><circle cx="169.66" cy="216.58" r="1.05"/><circle cx="140.77" cy="229.91" r="1.05"/><circle cx="181" cy="217.37" r="1.05"/><circle cx="263.18" cy="210.48" r="1.05"/><circle cx="153.6" cy="221.23" r="1.05"/><circle cx="256.54" cy="213.74" r="1.05"/><circle cx="232.82" cy="215.75" r="1.05"/><circle cx="156.12" cy="230.55" r="1.05"/><circle cx="187.36" cy="213.53" r="1.05"/><circle cx="133.51" cy="240.54" r="1.05"/><circle cx="164.83" cy="225.87" r="1.05"/><circle cx="212.62" cy="211.2" r="1.05"/><circle cx="138.16" cy="227.64" r="1.05"/><circle cx="206.97" cy="216.77" r="1.05"/><circle cx="257.65" cy="208.54" r="1.05"/><circle cx="130.25" cy="234.86" r="1.05"/><circle cx="152.98" cy="223.56" r="1.05"/><circle cx="208.55" cy="210.6" r="1.05"/><circle cx="267.22" cy="211.98" r="1.05"/><circle cx="225.86" cy="212.5" r="1.05"/><circle cx="130.59" cy="243.23" r="1.05"/><circle cx="227.61" cy="216.25" r="1.05"/><circle cx="196.29" cy="217.21" r="1.05"/><circle cx="173.46" cy="225.82" r="1.05"/><circle cx="232.46" cy="215.33" r="1.05"/><circle cx="232.48" cy="213.32" r="1.05"/><circle cx="177.14" cy="220.5" r="1.05"/><circle cx="255.01" cy="214.31" r="1.05"/><circle cx="250.45" cy="211.46" r="1.05"/><circle cx="216.08" cy="211.44" r="1.05"/><circle cx="139.14" cy="231.38" r="1.05"/><circle cx="268.51" cy="214.2" r="1.05"/><circle cx="231.71" cy="212.18" r="1.05"/><circle cx="190.77" cy="219.6" r="1.05"/><circle cx="132.47" cy="236.41" r="1.05"/><circle cx="195.94" cy="212.96" r="1.05"/><circle cx="214.62" cy="216.63" r="1.05"/><circle cx="164.06" cy="217.65" r="1.05"/><circle cx="157.09" cy="220.52" r="1.05"/><circle cx="255.57" cy="212.18" r="1.05"/><circle cx="174.49" cy="221.14" r="1.05"/><circle cx="156.32" cy="223.28" r="1.05"/><circle cx="251.93" cy="209.86" r="1.05"/><circle cx="210.74" cy="211.55" r="1.05"/><circle cx="246.71" cy="214.28" r="1.05"/><circle cx="228.61" cy="216.04" r="1.05"/><circle cx="191.95" cy="213.96" r="1.05"/><circle cx="158.05" cy="222.39" r="1.05"/><circle cx="172.38" cy="223.75" r="1.05"/><circle cx="267.03" cy="210.17" r="1.05"/><circle cx="251.54" cy="207.87" r="1.05"/><circle cx="228.08" cy="212.26" r="1.05"/><circle cx="131.2" cy="233.22" r="1.05"/><circle cx="192.46" cy="212.49" r="1.05"/><circle cx="147.74" cy="222.29" r="1.05"/><circle cx="216.73" cy="211.88" r="1.05"/><circle cx="241.93" cy="215.6" r="1.05"/><circle cx="224.67" cy="209.61" r="1.05"/><circle cx="129.55" cy="238.22" r="1.05"/><circle cx="229.02" cy="209.3" r="1.05"/><circle cx="226.94" cy="211.89" r="1.05"/><circle cx="214.53" cy="214.92" r="1.05"/><circle cx="256.56" cy="207.97" r="1.05"/><circle cx="260.19" cy="212.72" r="1.05"/><circle cx="216.76" cy="216.36" r="1.05"/><circle cx="181.71" cy="218.41" r="1.05"/><circle cx="261.24" cy="210.35" r="1.05"/><circle cx="220.06" cy="209.86" r="1.05"/><circle cx="218.24" cy="214.15" r="1.05"/><circle cx="159" cy="228.92" r="1.05"/><circle cx="203.88" cy="216.54" r="1.05"/><circle cx="173.51" cy="224.51" r="1.05"/><circle cx="139.49" cy="228.52" r="1.05"/><circle cx="205.8" cy="216.07" r="1.05"/><circle cx="242.5" cy="208.22" r="1.05"/><circle cx="240.91" cy="208.78" r="1.05"/><circle cx="148.34" cy="222.97" r="1.05"/><circle cx="201.33" cy="216.24" r="1.05"/><circle cx="261.44" cy="210.59" r="1.05"/><circle cx="262.37" cy="207.87" r="1.05"/><circle cx="169.42" cy="223.24" r="1.05"/><circle cx="218.61" cy="212.39" r="1.05"/><circle cx="171.79" cy="218.53" r="1.05"/><circle cx="247.76" cy="214.79" r="1.05"/><circle cx="265.6" cy="210.81" r="1.05"/><circle cx="208.73" cy="210.97" r="1.05"/><circle cx="213.56" cy="209.69" r="1.05"/><circle cx="264.73" cy="210.73" r="1.05"/><circle cx="207.96" cy="213.26" r="1.05"/><circle cx="225.47" cy="208.91" r="1.05"/><circle cx="263.32" cy="214.75" r="1.05"/><circle cx="166.32" cy="220.96" r="1.05"/><circle cx="243.65" cy="214.93" r="1.05"/><circle cx="195.58" cy="213.66" r="1.05"/><circle cx="259.31" cy="208.12" r="1.05"/><circle cx="238.34" cy="208.23" r="1.05"/><circle cx="225.42" cy="210.39" r="1.05"/><circle cx="178.67" cy="219.63" r="1.05"/><circle cx="145.67" cy="227.57" r="1.05"/><circle cx="163.14" cy="218.94" r="1.05"/><circle cx="181.11" cy="216.89" r="1.05"/><circle cx="203.02" cy="211.54" r="1.05"/><circle cx="218.75" cy="212.45" r="1.05"/><circle cx="248.59" cy="211.87" r="1.05"/><circle cx="232.65" cy="214.36" r="1.05"/><circle cx="255.46" cy="209.31" r="1.05"/><circle cx="159.49" cy="230.19" r="1.05"/><circle cx="253.62" cy="208.22" r="1.05"/><circle cx="165.2" cy="217.93" r="1.05"/><circle cx="245.79" cy="210.33" r="1.05"/><circle cx="184.84" cy="218.97" r="1.05"/><circle cx="130.24" cy="234" r="1.05"/><circle cx="264.42" cy="207.96" r="1.05"/><circle cx="199.1" cy="216.82" r="1.05"/><circle cx="154.74" cy="220.41" r="1.05"/><circle cx="142.68" cy="223.71" r="1.05"/><circle cx="208.36" cy="210.74" r="1.05"/><circle cx="154.6" cy="221.57" r="1.05"/><circle cx="258.38" cy="207.96" r="1.05"/><circle cx="136.27" cy="238" r="1.05"/><circle cx="174.37" cy="218.91" r="1.05"/><circle cx="200.87" cy="213.64" r="1.05"/><circle cx="227.17" cy="214.98" r="1.05"/><circle cx="153.63" cy="224.32" r="1.05"/><circle cx="155.31" cy="220.8" r="1.05"/><circle cx="200.95" cy="211.25" r="1.05"/><circle cx="227.38" cy="215.13" r="1.05"/><circle cx="216.77" cy="211.55" r="1.05"/><circle cx="266.84" cy="213.44" r="1.05"/><circle cx="164.53" cy="227.07" r="1.05"/><circle cx="242.75" cy="210.29" r="1.05"/><circle cx="254.69" cy="214.41" r="1.05"/><circle cx="235.8" cy="210.52" r="1.05"/><circle cx="230.07" cy="208.72" r="1.05"/><circle cx="129.78" cy="236.87" r="1.05"/><circle cx="218.46" cy="213.3" r="1.05"/><circle cx="222.97" cy="210.65" r="1.05"/><circle cx="221.06" cy="212.57" r="1.05"/><circle cx="269.42" cy="211.8" r="1.05"/><circle cx="227.29" cy="214.13" r="1.05"/><circle cx="215.07" cy="214.73" r="1.05"/><circle cx="164.5" cy="220.63" r="1.05"/><circle cx="181.22" cy="214.5" r="1.05"/><circle cx="163.16" cy="227.3" r="1.05"/><circle cx="264.74" cy="211.2" r="1.05"/><circle cx="268.85" cy="211.77" r="1.05"/><circle cx="212.44" cy="215.19" r="1.05"/><circle cx="134.57" cy="239.35" r="1.05"/><circle cx="152.22" cy="225.37" r="1.05"/><circle cx="214.78" cy="209.7" r="1.05"/><circle cx="202.43" cy="214.86" r="1.05"/><circle cx="179.51" cy="216.02" r="1.05"/><circle cx="167.8" cy="223.35" r="1.05"/><circle cx="169.89" cy="216.35" r="1.05"/><circle cx="150.25" cy="229.54" r="1.05"/><circle cx="183.18" cy="221.86" r="1.05"/><circle cx="267.81" cy="214.91" r="1.05"/><circle cx="138.09" cy="236.09" r="1.05"/><circle cx="265.85" cy="208.67" r="1.05"/><circle cx="202" cy="218.34" r="1.05"/><circle cx="266.17" cy="213.57" r="1.05"/><circle cx="213.18" cy="210.05" r="1.05"/><circle cx="156.58" cy="219.71" r="1.05"/><circle cx="202.31" cy="211.38" r="1.05"/><circle cx="192.62" cy="213.75" r="1.05"/><circle cx="210.45" cy="212.33" r="1.05"/><circle cx="268.8" cy="214.98" r="1.05"/><circle cx="232.38" cy="209.52" r="1.05"/><circle cx="239.4" cy="212.31" r="1.05"/><circle cx="178.67" cy="216.1" r="1.05"/><circle cx="211.37" cy="214.05" r="1.05"/><circle cx="234.6" cy="209.1" r="1.05"/><circle cx="258.41" cy="214.36" r="1.05"/><circle cx="133.55" cy="229.32" r="1.05"/><circle cx="216.52" cy="209.71" r="1.05"/><circle cx="205.03" cy="210.9" r="1.05"/><circle cx="206.15" cy="214.73" r="1.05"/><circle cx="180.87" cy="217.58" r="1.05"/><circle cx="233.66" cy="214.63" r="1.05"/><circle cx="138.67" cy="226.17" r="1.05"/><circle cx="236.39" cy="209.16" r="1.05"/><circle cx="188.15" cy="214.44" r="1.05"/><circle cx="220.22" cy="216.86" r="1.05"/><circle cx="174.03" cy="219.84" r="1.05"/><circle cx="187.84" cy="215.23" r="1.05"/><circle cx="141.84" cy="233.94" r="1.05"/><circle cx="207.9" cy="213.18" r="1.05"/><circle cx="224.99" cy="210.24" r="1.05"/><circle cx="158.06" cy="225.5" r="1.05"/><circle cx="139.49" cy="227.08" r="1.05"/><circle cx="167.58" cy="217.45" r="1.05"/><circle cx="178.53" cy="220.78" r="1.05"/><circle cx="228.47" cy="212.25" r="1.05"/><circle cx="258.25" cy="215.01" r="1.05"/><circle cx="241.46" cy="209.59" r="1.05"/><circle cx="173.53" cy="218.53" r="1.05"/><circle cx="162.88" cy="220.52" r="1.05"/><circle cx="179.49" cy="216.69" r="1.05"/><circle cx="155.77" cy="225.06" r="1.05"/><circle cx="240.99" cy="211.49" r="1.05"/><circle cx="152.66" cy="228.63" r="1.05"/><circle cx="253" cy="209.12" r="1.05"/><circle cx="205.05" cy="214.27" r="1.05"/><circle cx="264.78" cy="211.96" r="1.05"/><circle cx="205.27" cy="216.33" r="1.05"/><circle cx="139.84" cy="224.94" r="1.05"/><circle cx="139.34" cy="230.85" r="1.05"/><circle cx="148.23" cy="229.95" r="1.05"/><circle cx="159.01" cy="226.58" r="1.05"/><circle cx="201.59" cy="216.56" r="1.05"/><circle cx="265.18" cy="212.16" r="1.05"/><circle cx="197.77" cy="215.05" r="1.05"/><circle cx="257.01" cy="209.99" r="1.05"/><circle cx="245.24" cy="212.51" r="1.05"/><circle cx="245.55" cy="214.72" r="1.05"/><circle cx="263.06" cy="211.88" r="1.05"/><circle cx="241.45" cy="210.47" r="1.05"/><circle cx="187.44" cy="213.79" r="1.05"/><circle cx="180.22" cy="214.91" r="1.05"/><circle cx="156.71" cy="222.95" r="1.05"/><circle cx="137.14" cy="229.4" r="1.05"/><circle cx="144.28" cy="229.76" r="1.05"/><circle cx="136.64" cy="230.8" r="1.05"/><circle cx="210.79" cy="216.94" r="1.05"/><circle cx="154.15" cy="221.69" r="1.05"/><circle cx="161.13" cy="225.27" r="1.05"/><circle cx="154.06" cy="222.26" r="1.05"/><circle cx="152.27" cy="228.8" r="1.05"/><circle cx="243.97" cy="210.87" r="1.05"/><circle cx="165.09" cy="226.63" r="1.05"/><circle cx="205.31" cy="218.11" r="1.05"/><circle cx="196.98" cy="212.86" r="1.05"/><circle cx="241.62" cy="210.19" r="1.05"/><circle cx="202.51" cy="214.12" r="1.05"/><circle cx="221.95" cy="210.02" r="1.05"/><circle cx="129.17" cy="238.2" r="1.05"/><circle cx="229.32" cy="212.55" r="1.05"/><circle cx="150.16" cy="222.32" r="1.05"/><circle cx="251.21" cy="210.95" r="1.05"/><circle cx="218.09" cy="217.11" r="1.05"/><circle cx="149.69" cy="230.03" r="1.05"/><circle cx="128.51" cy="244.86" r="1.05"/><circle cx="139.2" cy="226.66" r="1.05"/><circle cx="229.05" cy="208.87" r="1.05"/><circle cx="263.24" cy="211.39" r="1.05"/><circle cx="249.39" cy="209.33" r="1.05"/><circle cx="257.42" cy="207.96" r="1.05"/><circle cx="244.57" cy="208.86" r="1.05"/><circle cx="150.19" cy="230.67" r="1.05"/><circle cx="172.29" cy="217.88" r="1.05"/><circle cx="194.23" cy="217.48" r="1.05"/><circle cx="179.14" cy="220.25" r="1.05"/><circle cx="193.52" cy="220.44" r="1.05"/><circle cx="245.7" cy="212.37" r="1.05"/><circle cx="228.49" cy="209.67" r="1.05"/><circle cx="208.75" cy="212.96" r="1.05"/><circle cx="241.18" cy="208.98" r="1.05"/><circle cx="214.91" cy="210.9" r="1.05"/><circle cx="170.46" cy="218.53" r="1.05"/><circle cx="183.49" cy="219.06" r="1.05"/><circle cx="231.7" cy="210.15" r="1.05"/><circle cx="261.68" cy="211.2" r="1.05"/><circle cx="244.74" cy="208.25" r="1.05"/><circle cx="147.72" cy="222.56" r="1.05"/><circle cx="153.03" cy="223.78" r="1.05"/><circle cx="246.61" cy="211.77" r="1.05"/><circle cx="150.34" cy="222.08" r="1.05"/><circle cx="185.85" cy="213.7" r="1.05"/><circle cx="200.24" cy="215.6" r="1.05"/><circle cx="236.31" cy="214.32" r="1.05"/><circle cx="186.49" cy="213.38" r="1.05"/><circle cx="185.23" cy="219.19" r="1.05"/><circle cx="221.36" cy="212.93" r="1.05"/><circle cx="130.39" cy="235.14" r="1.05"/><circle cx="143.4" cy="226.66" r="1.05"/><circle cx="200.26" cy="217.03" r="1.05"/><circle cx="150.04" cy="229.63" r="1.05"/><circle cx="255.56" cy="211.16" r="1.05"/><circle cx="148.34" cy="229.56" r="1.05"/><circle cx="267.51" cy="210.7" r="1.05"/><circle cx="155.35" cy="230.44" r="1.05"/><circle cx="216.93" cy="210.15" r="1.05"/><circle cx="209.69" cy="214.88" r="1.05"/><circle cx="174.36" cy="224.44" r="1.05"/><circle cx="145.81" cy="234.39" r="1.05"/><circle cx="146.82" cy="232.76" r="1.05"/><circle cx="207.19" cy="211.59" r="1.05"/><circle cx="256.84" cy="215.61" r="1.05"/><circle cx="144.98" cy="232.05" r="1.05"/><circle cx="168.86" cy="225.58" r="1.05"/><circle cx="245.94" cy="208.71" r="1.05"/><circle cx="205.71" cy="210.8" r="1.05"/><circle cx="267.7" cy="214.86" r="1.05"/><circle cx="220.93" cy="210.48" r="1.05"/><circle cx="181.57" cy="218.53" r="1.05"/><circle cx="241.85" cy="208.1" r="1.05"/><circle cx="148.55" cy="225.2" r="1.05"/><circle cx="208.35" cy="210.87" r="1.05"/><circle cx="208.35" cy="211.92" r="1.05"/><circle cx="218.72" cy="209.2" r="1.05"/><circle cx="263.6" cy="211.5" r="1.05"/><circle cx="194.17" cy="214.56" r="1.05"/><circle cx="234.94" cy="213.66" r="1.05"/><circle cx="197.05" cy="219.99" r="1.05"/><circle cx="185.38" cy="216.26" r="1.05"/><circle cx="207.72" cy="217.21" r="1.05"/><circle cx="189.1" cy="220.63" r="1.05"/><circle cx="173.28" cy="215.8" r="1.05"/><circle cx="230.94" cy="212.35" r="1.05"/><circle cx="234.3" cy="209.84" r="1.05"/><circle cx="145.55" cy="226.7" r="1.05"/><circle cx="199.56" cy="213.64" r="1.05"/><circle cx="202.61" cy="212.06" r="1.05"/><circle cx="171.35" cy="218.84" r="1.05"/><circle cx="257.06" cy="215.32" r="1.05"/><circle cx="221.72" cy="215.44" r="1.05"/><circle cx="159.64" cy="226.25" r="1.05"/><circle cx="208.64" cy="217.17" r="1.05"/><circle cx="145.83" cy="227.88" r="1.05"/><circle cx="262.57" cy="207.61" r="1.05"/><circle cx="174.21" cy="215.72" r="1.05"/><circle cx="254.44" cy="213.74" r="1.05"/><circle cx="211.02" cy="210.02" r="1.05"/><circle cx="132.28" cy="240.6" r="1.05"/><circle cx="260.48" cy="215.39" r="1.05"/><circle cx="194.69" cy="212.99" r="1.05"/><circle cx="255.55" cy="208.54" r="1.05"/><circle cx="246.38" cy="209.78" r="1.05"/><circle cx="252.51" cy="215.71" r="1.05"/><circle cx="156.81" cy="225.63" r="1.05"/><circle cx="135.65" cy="228.54" r="1.05"/><circle cx="231.19" cy="210.07" r="1.05"/><circle cx="228.55" cy="209.07" r="1.05"/><circle cx="226.36" cy="216.01" r="1.05"/><circle cx="159.63" cy="220.87" r="1.05"/><circle cx="228.63" cy="209.42" r="1.05"/><circle cx="222.24" cy="214.66" r="1.05"/><circle cx="181.01" cy="219.55" r="1.05"/><circle cx="160.14" cy="220.59" r="1.05"/><circle cx="259.06" cy="212.2" r="1.05"/><circle cx="141.16" cy="236" r="1.05"/><circle cx="190.22" cy="216.35" r="1.05"/><circle cx="212.84" cy="211.09" r="1.05"/><circle cx="163.71" cy="225.83" r="1.05"/><circle cx="235.06" cy="209.43" r="1.05"/><circle cx="167.74" cy="221.44" r="1.05"/><circle cx="268.35" cy="207.6" r="1.05"/><circle cx="192.8" cy="218.01" r="1.05"/><circle cx="199.19" cy="212.22" r="1.05"/></g>
<line x1="41.6" y1="313.7" x2="104" y2="313.7" stroke="#ff0505" stroke-width="1.6"/>
<g fill="#ff0505" fill-opacity="0.85"><circle cx="42" cy="313.29" r="0.95"/><circle cx="43.1" cy="313.55" r="0.95"/><circle cx="44.2" cy="313.42" r="0.95"/><circle cx="45.3" cy="314.04" r="0.95"/><circle cx="46.4" cy="313.77" r="0.95"/><circle cx="47.5" cy="313.35" r="0.95"/><circle cx="48.6" cy="313.12" r="0.95"/><circle cx="49.7" cy="313.68" r="0.95"/><circle cx="50.8" cy="313.55" r="0.95"/><circle cx="51.9" cy="313.37" r="0.95"/><circle cx="53" cy="313.88" r="0.95"/><circle cx="54.1" cy="313.64" r="0.95"/><circle cx="55.2" cy="313.73" r="0.95"/><circle cx="56.3" cy="313.52" r="0.95"/><circle cx="57.4" cy="313.53" r="0.95"/><circle cx="58.5" cy="313.56" r="0.95"/><circle cx="59.6" cy="313.22" r="0.95"/><circle cx="60.7" cy="313.89" r="0.95"/><circle cx="61.8" cy="313.82" r="0.95"/><circle cx="62.9" cy="313.18" r="0.95"/><circle cx="64" cy="313.73" r="0.95"/><circle cx="65.1" cy="314.05" r="0.95"/><circle cx="66.2" cy="313.77" r="0.95"/><circle cx="67.3" cy="314.09" r="0.95"/><circle cx="68.4" cy="313.62" r="0.95"/><circle cx="69.5" cy="313.7" r="0.95"/><circle cx="70.6" cy="313.31" r="0.95"/><circle cx="71.7" cy="313.43" r="0.95"/><circle cx="72.8" cy="313.15" r="0.95"/><circle cx="73.9" cy="313.43" r="0.95"/><circle cx="75" cy="313.77" r="0.95"/><circle cx="76.1" cy="313.86" r="0.95"/><circle cx="77.2" cy="314.05" r="0.95"/><circle cx="78.3" cy="313.74" r="0.95"/><circle cx="79.4" cy="313.4" r="0.95"/><circle cx="80.5" cy="313.83" r="0.95"/><circle cx="81.6" cy="313.66" r="0.95"/><circle cx="82.7" cy="314.24" r="0.95"/><circle cx="83.8" cy="314.29" r="0.95"/><circle cx="84.9" cy="313.99" r="0.95"/><circle cx="86" cy="313.36" r="0.95"/><circle cx="87.1" cy="313.54" r="0.95"/><circle cx="88.2" cy="313.76" r="0.95"/><circle cx="89.3" cy="313.49" r="0.95"/><circle cx="90.4" cy="313.86" r="0.95"/><circle cx="91.5" cy="313.91" r="0.95"/><circle cx="92.6" cy="313.95" r="0.95"/><circle cx="93.7" cy="313.77" r="0.95"/><circle cx="94.8" cy="313.43" r="0.95"/><circle cx="95.9" cy="313.45" r="0.95"/><circle cx="97" cy="313.66" r="0.95"/><circle cx="98.1" cy="314.1" r="0.95"/><circle cx="99.2" cy="314.17" r="0.95"/><circle cx="100.3" cy="313.99" r="0.95"/><circle cx="101.4" cy="313.81" r="0.95"/></g>
<g fill="#ff0505" fill-opacity="0.6"><circle cx="98" cy="313.4" r="1.0"/><circle cx="99.5" cy="313.2" r="1.0"/><circle cx="101" cy="313" r="1.0"/><circle cx="102.5" cy="312.8" r="1.0"/><circle cx="104" cy="312.5" r="1.0"/><circle cx="105.5" cy="312.2" r="1.0"/><circle cx="107" cy="312.4" r="1.0"/><circle cx="108.5" cy="312.9" r="1.0"/></g>
<g fill="#ff0505"><circle cx="115.8" cy="266.4" r="1.3"/><circle cx="117.7" cy="266.4" r="1.3"/><circle cx="119.5" cy="262.2" r="1.3"/><circle cx="119.9" cy="249.7" r="1.3"/><circle cx="120.6" cy="248.7" r="1.3"/><circle cx="123.7" cy="241.1" r="1.3"/><circle cx="127.5" cy="237.3" r="1.3"/><circle cx="130.2" cy="233.9" r="1.3"/><circle cx="130.2" cy="229.2" r="1.3"/><circle cx="132.8" cy="227.9" r="1.3"/><circle cx="136" cy="225.4" r="1.3"/><circle cx="137.7" cy="224.5" r="1.3"/><circle cx="139.3" cy="223.6" r="1.3"/><circle cx="141.9" cy="220.8" r="1.3"/><circle cx="144.8" cy="220.3" r="1.3"/><circle cx="147.4" cy="219.4" r="1.3"/><circle cx="149.5" cy="219.1" r="1.3"/><circle cx="152" cy="219.1" r="1.3"/><circle cx="154.5" cy="219.1" r="1.3"/><circle cx="157.9" cy="217.8" r="1.3"/><circle cx="159.8" cy="217.5" r="1.3"/><circle cx="161.8" cy="217.1" r="1.3"/><circle cx="163.6" cy="216.7" r="1.3"/><circle cx="165.3" cy="216.2" r="1.3"/><circle cx="167" cy="215.6" r="1.3"/><circle cx="168.7" cy="215.1" r="1.3"/><circle cx="170.3" cy="214.7" r="1.3"/><circle cx="172" cy="214.3" r="1.3"/><circle cx="173.6" cy="214" r="1.3"/><circle cx="175.6" cy="213.6" r="1.3"/><circle cx="180" cy="213.1" r="1.3"/><circle cx="184.1" cy="212.8" r="1.3"/><circle cx="187.4" cy="212.5" r="1.3"/><circle cx="194" cy="212" r="1.3"/><circle cx="195.7" cy="211.6" r="1.3"/><circle cx="197.4" cy="211.2" r="1.3"/><circle cx="199" cy="210.8" r="1.3"/><circle cx="201.5" cy="210.5" r="1.3"/><circle cx="204" cy="210.1" r="1.3"/><circle cx="208.2" cy="209.8" r="1.3"/><circle cx="211.5" cy="209.5" r="1.3"/><circle cx="214.8" cy="209.1" r="1.3"/><circle cx="218.4" cy="208.8" r="1.3"/><circle cx="222.5" cy="208.6" r="1.3"/><circle cx="224.1" cy="208.4" r="1.3"/><circle cx="226.4" cy="208.4" r="1.3"/><circle cx="234.9" cy="208.6" r="1.3"/><circle cx="236.6" cy="208.4" r="1.3"/><circle cx="238.3" cy="208.4" r="1.3"/><circle cx="239.8" cy="208.4" r="1.3"/><circle cx="241.9" cy="207.8" r="1.3"/><circle cx="243.6" cy="207.4" r="1.3"/><circle cx="245.7" cy="207.4" r="1.3"/><circle cx="249.1" cy="207.3" r="1.3"/><circle cx="251.6" cy="207.4" r="1.3"/><circle cx="253.2" cy="207.4" r="1.3"/><circle cx="254.9" cy="207.4" r="1.3"/></g>
<g fill="#03a83f" fill-opacity="0.3"><circle cx="498" cy="220.33" r="1.05"/><circle cx="512.03" cy="219.54" r="1.05"/><circle cx="423.9" cy="231.32" r="1.05"/><circle cx="532.51" cy="217.58" r="1.05"/><circle cx="478.38" cy="219.75" r="1.05"/><circle cx="421.57" cy="231.72" r="1.05"/><circle cx="454.95" cy="225.62" r="1.05"/><circle cx="519.53" cy="217.55" r="1.05"/><circle cx="497.59" cy="217.89" r="1.05"/><circle cx="446.19" cy="224.11" r="1.05"/><circle cx="542.68" cy="219.56" r="1.05"/><circle cx="487.9" cy="220.57" r="1.05"/><circle cx="445.41" cy="227.11" r="1.05"/><circle cx="531.23" cy="218.04" r="1.05"/><circle cx="465.19" cy="221.19" r="1.05"/><circle cx="457.73" cy="224.02" r="1.05"/><circle cx="420.33" cy="234.42" r="1.05"/><circle cx="522.46" cy="218.42" r="1.05"/><circle cx="459.45" cy="223.29" r="1.05"/><circle cx="541.82" cy="217.43" r="1.05"/><circle cx="514.07" cy="219.34" r="1.05"/><circle cx="465.81" cy="222.75" r="1.05"/><circle cx="421.34" cy="231.39" r="1.05"/><circle cx="445.02" cy="226.55" r="1.05"/><circle cx="536.1" cy="219.68" r="1.05"/><circle cx="485.74" cy="221.14" r="1.05"/><circle cx="433.62" cy="228.72" r="1.05"/><circle cx="424.2" cy="232.58" r="1.05"/><circle cx="431.05" cy="227.56" r="1.05"/><circle cx="462.21" cy="224.62" r="1.05"/><circle cx="488.09" cy="219.04" r="1.05"/><circle cx="429.89" cy="227.19" r="1.05"/><circle cx="506.18" cy="219.76" r="1.05"/><circle cx="543.39" cy="218.72" r="1.05"/><circle cx="470.43" cy="220.66" r="1.05"/><circle cx="476.75" cy="220.65" r="1.05"/><circle cx="427.19" cy="231.38" r="1.05"/><circle cx="524.85" cy="217.56" r="1.05"/><circle cx="511.22" cy="219.62" r="1.05"/><circle cx="433.07" cy="227.51" r="1.05"/><circle cx="438.59" cy="227.97" r="1.05"/><circle cx="545.12" cy="219.53" r="1.05"/><circle cx="541.68" cy="218.51" r="1.05"/><circle cx="479.9" cy="219.78" r="1.05"/><circle cx="470.05" cy="220.33" r="1.05"/><circle cx="540.39" cy="218.93" r="1.05"/><circle cx="482.55" cy="219.71" r="1.05"/><circle cx="517.84" cy="219.38" r="1.05"/><circle cx="465.21" cy="223.67" r="1.05"/><circle cx="502.7" cy="219.18" r="1.05"/><circle cx="465.38" cy="223.3" r="1.05"/><circle cx="516.44" cy="218.95" r="1.05"/><circle cx="456.58" cy="225.51" r="1.05"/><circle cx="421.23" cy="233.17" r="1.05"/><circle cx="450.98" cy="225.11" r="1.05"/><circle cx="501.01" cy="219.29" r="1.05"/><circle cx="463.46" cy="223.35" r="1.05"/><circle cx="463.38" cy="224.11" r="1.05"/><circle cx="529.23" cy="218.99" r="1.05"/><circle cx="484.69" cy="220.24" r="1.05"/><circle cx="440.98" cy="227.52" r="1.05"/><circle cx="506.34" cy="219.07" r="1.05"/><circle cx="511.34" cy="217.67" r="1.05"/><circle cx="502.94" cy="218.34" r="1.05"/><circle cx="497.76" cy="220.46" r="1.05"/><circle cx="423.21" cy="230.22" r="1.05"/><circle cx="475.19" cy="221.78" r="1.05"/><circle cx="499.16" cy="217.5" r="1.05"/><circle cx="479.05" cy="219.63" r="1.05"/><circle cx="459.7" cy="222.07" r="1.05"/><circle cx="443.98" cy="223.73" r="1.05"/><circle cx="496.52" cy="219.77" r="1.05"/><circle cx="449.93" cy="226.26" r="1.05"/><circle cx="454.82" cy="223.61" r="1.05"/><circle cx="434.35" cy="228.86" r="1.05"/><circle cx="496.73" cy="217.78" r="1.05"/><circle cx="487.71" cy="219.14" r="1.05"/><circle cx="522.07" cy="218.27" r="1.05"/><circle cx="521.55" cy="218.82" r="1.05"/><circle cx="494.57" cy="219.72" r="1.05"/><circle cx="539.51" cy="219.78" r="1.05"/><circle cx="531.57" cy="217.3" r="1.05"/><circle cx="433.41" cy="228" r="1.05"/><circle cx="498.61" cy="220.9" r="1.05"/><circle cx="467.01" cy="221.98" r="1.05"/><circle cx="541.72" cy="218.32" r="1.05"/><circle cx="540.01" cy="219.65" r="1.05"/><circle cx="542.53" cy="218.62" r="1.05"/><circle cx="472.17" cy="220.84" r="1.05"/><circle cx="455.78" cy="223.75" r="1.05"/><circle cx="435.08" cy="227.83" r="1.05"/><circle cx="517.77" cy="219.28" r="1.05"/><circle cx="421.58" cy="232.97" r="1.05"/><circle cx="518.2" cy="217.83" r="1.05"/><circle cx="453.63" cy="222.77" r="1.05"/><circle cx="495.99" cy="219.32" r="1.05"/><circle cx="500.61" cy="218.81" r="1.05"/><circle cx="514.95" cy="217.98" r="1.05"/><circle cx="486.62" cy="219.28" r="1.05"/><circle cx="478.28" cy="220.28" r="1.05"/><circle cx="513.28" cy="218.71" r="1.05"/><circle cx="476.99" cy="222.63" r="1.05"/><circle cx="531.34" cy="218.65" r="1.05"/><circle cx="473.5" cy="221.69" r="1.05"/><circle cx="508.08" cy="218.84" r="1.05"/><circle cx="468.23" cy="221.64" r="1.05"/><circle cx="526.38" cy="217.74" r="1.05"/><circle cx="428.62" cy="230.54" r="1.05"/><circle cx="506.75" cy="218.35" r="1.05"/><circle cx="534.17" cy="217.67" r="1.05"/><circle cx="479.62" cy="220.82" r="1.05"/><circle cx="439.19" cy="226.82" r="1.05"/><circle cx="521.52" cy="217.38" r="1.05"/><circle cx="519.34" cy="218.86" r="1.05"/><circle cx="423.9" cy="232.65" r="1.05"/><circle cx="507.56" cy="217.38" r="1.05"/><circle cx="524.96" cy="217.79" r="1.05"/><circle cx="508.66" cy="217.59" r="1.05"/><circle cx="456.72" cy="225.42" r="1.05"/><circle cx="471.96" cy="220.24" r="1.05"/><circle cx="497.95" cy="217.54" r="1.05"/><circle cx="429.12" cy="227.13" r="1.05"/><circle cx="491.98" cy="220.51" r="1.05"/><circle cx="473.88" cy="220.58" r="1.05"/><circle cx="495.21" cy="219.41" r="1.05"/><circle cx="426.9" cy="230.5" r="1.05"/><circle cx="438.45" cy="227.07" r="1.05"/><circle cx="489.35" cy="220.15" r="1.05"/><circle cx="452.9" cy="224.43" r="1.05"/><circle cx="484.96" cy="218.67" r="1.05"/><circle cx="449.29" cy="224.2" r="1.05"/><circle cx="509.04" cy="218.89" r="1.05"/><circle cx="430.74" cy="229.03" r="1.05"/><circle cx="494.3" cy="218.43" r="1.05"/><circle cx="529.46" cy="218.48" r="1.05"/><circle cx="424" cy="232.32" r="1.05"/><circle cx="427" cy="228.42" r="1.05"/><circle cx="447.8" cy="223.42" r="1.05"/><circle cx="541.63" cy="219.04" r="1.05"/><circle cx="498" cy="218.77" r="1.05"/><circle cx="449.24" cy="224.04" r="1.05"/><circle cx="468.1" cy="220.61" r="1.05"/><circle cx="523.96" cy="218.85" r="1.05"/><circle cx="526.25" cy="218.55" r="1.05"/><circle cx="494.07" cy="219.77" r="1.05"/><circle cx="431.92" cy="226.17" r="1.05"/><circle cx="445.48" cy="223.56" r="1.05"/><circle cx="514.9" cy="217.23" r="1.05"/><circle cx="478.62" cy="222.31" r="1.05"/><circle cx="478.05" cy="219.22" r="1.05"/><circle cx="439.19" cy="225.08" r="1.05"/><circle cx="530.18" cy="217.66" r="1.05"/><circle cx="451.85" cy="223.48" r="1.05"/><circle cx="449.54" cy="224.63" r="1.05"/><circle cx="423.69" cy="232.89" r="1.05"/><circle cx="506.31" cy="218.95" r="1.05"/><circle cx="479.19" cy="222.51" r="1.05"/><circle cx="456.59" cy="224.47" r="1.05"/><circle cx="511.18" cy="217.65" r="1.05"/><circle cx="448.85" cy="223.12" r="1.05"/><circle cx="470.02" cy="223.68" r="1.05"/><circle cx="478.63" cy="219.91" r="1.05"/><circle cx="511.62" cy="219.04" r="1.05"/><circle cx="504.15" cy="219.63" r="1.05"/><circle cx="500.76" cy="218.37" r="1.05"/><circle cx="427.6" cy="230.57" r="1.05"/><circle cx="470.69" cy="219.83" r="1.05"/><circle cx="484.69" cy="219.51" r="1.05"/><circle cx="431.91" cy="226.4" r="1.05"/><circle cx="536.83" cy="217.47" r="1.05"/><circle cx="450.38" cy="222.75" r="1.05"/><circle cx="451.97" cy="223.98" r="1.05"/><circle cx="458.76" cy="221.73" r="1.05"/><circle cx="442.55" cy="225.92" r="1.05"/><circle cx="470.44" cy="221.89" r="1.05"/><circle cx="433.59" cy="227.9" r="1.05"/><circle cx="535.25" cy="218.82" r="1.05"/><circle cx="422.07" cy="232.64" r="1.05"/><circle cx="480.62" cy="220.8" r="1.05"/><circle cx="510.9" cy="219.53" r="1.05"/><circle cx="458.52" cy="223.3" r="1.05"/><circle cx="434.33" cy="226.77" r="1.05"/><circle cx="431.03" cy="229.38" r="1.05"/><circle cx="436.07" cy="225.46" r="1.05"/><circle cx="450.37" cy="222.86" r="1.05"/><circle cx="450.79" cy="222.76" r="1.05"/><circle cx="507.63" cy="217.38" r="1.05"/><circle cx="466.88" cy="220.69" r="1.05"/><circle cx="472.58" cy="220.75" r="1.05"/><circle cx="531.76" cy="218.93" r="1.05"/><circle cx="514.62" cy="218.66" r="1.05"/><circle cx="502.06" cy="219.68" r="1.05"/><circle cx="510.96" cy="219" r="1.05"/><circle cx="468.16" cy="220.65" r="1.05"/><circle cx="428.22" cy="227.88" r="1.05"/><circle cx="455.99" cy="222.11" r="1.05"/><circle cx="515.54" cy="218.62" r="1.05"/><circle cx="436.28" cy="226.55" r="1.05"/><circle cx="527.36" cy="219.63" r="1.05"/><circle cx="473.52" cy="220.82" r="1.05"/><circle cx="460.97" cy="221.16" r="1.05"/><circle cx="510.66" cy="217.48" r="1.05"/><circle cx="486.23" cy="218.66" r="1.05"/><circle cx="537.11" cy="219.33" r="1.05"/><circle cx="434.97" cy="226.72" r="1.05"/><circle cx="474.16" cy="221.05" r="1.05"/><circle cx="515.42" cy="219.56" r="1.05"/><circle cx="494.39" cy="217.88" r="1.05"/><circle cx="522.31" cy="218.26" r="1.05"/><circle cx="424.29" cy="231.43" r="1.05"/><circle cx="480.14" cy="222.1" r="1.05"/><circle cx="454.72" cy="222.8" r="1.05"/><circle cx="490.31" cy="219.02" r="1.05"/><circle cx="463.82" cy="221.7" r="1.05"/><circle cx="542.97" cy="219.48" r="1.05"/><circle cx="469.88" cy="220.36" r="1.05"/><circle cx="524.08" cy="218.46" r="1.05"/><circle cx="432.37" cy="228.86" r="1.05"/><circle cx="532.57" cy="217.8" r="1.05"/><circle cx="505.19" cy="219.43" r="1.05"/><circle cx="455.75" cy="230.46" r="1.05"/><circle cx="450.13" cy="230.65" r="1.05"/><circle cx="433.39" cy="232.09" r="1.05"/><circle cx="439.98" cy="231.3" r="1.05"/><circle cx="447.59" cy="231.04" r="1.05"/><circle cx="466.1" cy="229.89" r="1.05"/><circle cx="458.81" cy="229.87" r="1.05"/><circle cx="442.38" cy="231.42" r="1.05"/><circle cx="458.63" cy="229.67" r="1.05"/><circle cx="428.57" cy="233.65" r="1.05"/><circle cx="453.54" cy="230.61" r="1.05"/><circle cx="471.14" cy="227.75" r="1.05"/><circle cx="460.53" cy="228.69" r="1.05"/><circle cx="472.36" cy="228.58" r="1.05"/><circle cx="459.04" cy="230.2" r="1.05"/><circle cx="434.23" cy="232.17" r="1.05"/><circle cx="470.07" cy="228.05" r="1.05"/><circle cx="444" cy="230.2" r="1.05"/><circle cx="443.53" cy="230.53" r="1.05"/><circle cx="469.89" cy="228.57" r="1.05"/><circle cx="443.58" cy="230.42" r="1.05"/><circle cx="460.13" cy="229.24" r="1.05"/><circle cx="469.14" cy="228.1" r="1.05"/><circle cx="455.95" cy="230.64" r="1.05"/><circle cx="432.56" cy="232.63" r="1.05"/><circle cx="426.98" cy="235.01" r="1.05"/><circle cx="466.3" cy="229.75" r="1.05"/><circle cx="445.39" cy="230.98" r="1.05"/><circle cx="470.06" cy="228.07" r="1.05"/><circle cx="473.7" cy="227.2" r="1.05"/><circle cx="425.18" cy="235.49" r="1.05"/><circle cx="433.22" cy="231.74" r="1.05"/><circle cx="454.14" cy="230.33" r="1.05"/><circle cx="426.68" cy="234.92" r="1.05"/><circle cx="466.32" cy="229.88" r="1.05"/><circle cx="457.44" cy="230.58" r="1.05"/><circle cx="435.87" cy="232.37" r="1.05"/><circle cx="428.85" cy="232.82" r="1.05"/><circle cx="432.23" cy="231.73" r="1.05"/><circle cx="429.69" cy="233.67" r="1.05"/><circle cx="461.7" cy="229.96" r="1.05"/><circle cx="470.68" cy="229.04" r="1.05"/><circle cx="455.99" cy="230.75" r="1.05"/><circle cx="427.37" cy="234.3" r="1.05"/><circle cx="442.89" cy="231.12" r="1.05"/><circle cx="427.82" cy="233.88" r="1.05"/><circle cx="452.02" cy="230.1" r="1.05"/><circle cx="443.37" cy="231.52" r="1.05"/><circle cx="449.38" cy="231.41" r="1.05"/><circle cx="462.71" cy="229.71" r="1.05"/><circle cx="438.81" cy="230.92" r="1.05"/><circle cx="461.64" cy="230.14" r="1.05"/><circle cx="443.02" cy="230.77" r="1.05"/><circle cx="464.24" cy="229.35" r="1.05"/><circle cx="439.3" cy="231.32" r="1.05"/><circle cx="426.27" cy="235.24" r="1.05"/><circle cx="436.34" cy="232.26" r="1.05"/><circle cx="429" cy="233.52" r="1.05"/><circle cx="473.69" cy="227.64" r="1.05"/><circle cx="429.14" cy="233.47" r="1.05"/><circle cx="476.15" cy="236.61" r="1.05"/><circle cx="438.3" cy="244.9" r="1.05"/><circle cx="459.37" cy="238.21" r="1.05"/><circle cx="448.26" cy="240.26" r="1.05"/><circle cx="459.15" cy="238.29" r="1.05"/><circle cx="483.08" cy="237.75" r="1.05"/><circle cx="461.19" cy="237.48" r="1.05"/><circle cx="458.97" cy="238.49" r="1.05"/><circle cx="480.32" cy="237.74" r="1.05"/><circle cx="439.02" cy="245.66" r="1.05"/><circle cx="457.93" cy="238.92" r="1.05"/><circle cx="454.8" cy="238.96" r="1.05"/><circle cx="474.06" cy="238.47" r="1.05"/><circle cx="458.54" cy="239.17" r="1.05"/><circle cx="484.38" cy="236.74" r="1.05"/><circle cx="460.27" cy="238.07" r="1.05"/><circle cx="469.59" cy="237.09" r="1.05"/><circle cx="441.96" cy="243.03" r="1.05"/><circle cx="480.21" cy="238.23" r="1.05"/><circle cx="477.02" cy="238.49" r="1.05"/><circle cx="466.24" cy="237.34" r="1.05"/><circle cx="483.19" cy="236.46" r="1.05"/><circle cx="446.6" cy="239.75" r="1.05"/><circle cx="456.36" cy="238.48" r="1.05"/><circle cx="445.91" cy="240.48" r="1.05"/><circle cx="442.11" cy="241.9" r="1.05"/><circle cx="467.86" cy="237.67" r="1.05"/><circle cx="465.76" cy="239.06" r="1.05"/><circle cx="449.27" cy="239.07" r="1.05"/><circle cx="473" cy="236.99" r="1.05"/><circle cx="437.5" cy="244.9" r="1.05"/><circle cx="441.2" cy="244.3" r="1.05"/><circle cx="435" cy="248" r="1.05"/><circle cx="442.5" cy="233.7" r="1.05"/><circle cx="447.5" cy="233.1" r="1.05"/><circle cx="430" cy="250" r="1.05"/><circle cx="434.6" cy="248.9" r="1.05"/><circle cx="437.1" cy="249.2" r="1.05"/><circle cx="429.1" cy="250.3" r="1.05"/><circle cx="434" cy="253.3" r="1.05"/><circle cx="431.9" cy="264.7" r="1.05"/><circle cx="437.4" cy="264.4" r="1.05"/><circle cx="421.5" cy="284.1" r="1.05"/><circle cx="425" cy="282.1" r="1.05"/><circle cx="429.4" cy="280.7" r="1.05"/><circle cx="423.8" cy="251.9" r="1.05"/><circle cx="419.4" cy="256.4" r="1.05"/><circle cx="416.4" cy="270.9" r="1.05"/><circle cx="420.8" cy="245.7" r="1.05"/><circle cx="438.8" cy="245" r="1.05"/><circle cx="427" cy="252" r="1.05"/><circle cx="432" cy="263.5" r="1.05"/><circle cx="422.14" cy="313.78" r="1.05"/><circle cx="427.65" cy="313.73" r="1.05"/><circle cx="420.96" cy="312.98" r="1.05"/><circle cx="428.06" cy="313.78" r="1.05"/><circle cx="414.07" cy="313.63" r="1.05"/><circle cx="420.32" cy="313.8" r="1.05"/><circle cx="419.57" cy="314.3" r="1.05"/><circle cx="421.55" cy="313.87" r="1.05"/><circle cx="425.44" cy="314.31" r="1.05"/><circle cx="423.07" cy="313.54" r="1.05"/><circle cx="426.55" cy="315.15" r="1.05"/><circle cx="431.77" cy="313.24" r="1.05"/><circle cx="418.73" cy="314.5" r="1.05"/><circle cx="414.47" cy="315" r="1.05"/><circle cx="421.53" cy="313.74" r="1.05"/><circle cx="420.39" cy="313.07" r="1.05"/><circle cx="430.57" cy="313.57" r="1.05"/><circle cx="428.76" cy="314.52" r="1.05"/><circle cx="415.62" cy="313.38" r="1.05"/><circle cx="423.75" cy="314.36" r="1.05"/><circle cx="416.94" cy="313.6" r="1.05"/><circle cx="414.67" cy="313.86" r="1.05"/><circle cx="419.5" cy="314.77" r="1.05"/><circle cx="418" cy="315.03" r="1.05"/><circle cx="418.24" cy="314.01" r="1.05"/><circle cx="417.98" cy="312.84" r="1.05"/><circle cx="428.75" cy="313.38" r="1.05"/><circle cx="424.95" cy="313.38" r="1.05"/><circle cx="417.67" cy="313.7" r="1.05"/><circle cx="421.33" cy="315.02" r="1.05"/><circle cx="430.05" cy="313.94" r="1.05"/><circle cx="413.99" cy="314.09" r="1.05"/><circle cx="427.05" cy="313.72" r="1.05"/><circle cx="413.82" cy="313.77" r="1.05"/><circle cx="428.66" cy="312.59" r="1.05"/><circle cx="413.76" cy="313.84" r="1.05"/><circle cx="424.19" cy="314.51" r="1.05"/><circle cx="424.62" cy="314.45" r="1.05"/><circle cx="424.63" cy="314.06" r="1.05"/><circle cx="415.11" cy="315.24" r="1.05"/><circle cx="416.96" cy="319.6" r="1.05"/><circle cx="417.39" cy="315.9" r="1.05"/><circle cx="422.9" cy="319.39" r="1.05"/><circle cx="429.38" cy="319.83" r="1.05"/><circle cx="417.04" cy="319.36" r="1.05"/><circle cx="428.65" cy="316.22" r="1.05"/><circle cx="427.32" cy="317.05" r="1.05"/><circle cx="420.48" cy="315.51" r="1.05"/><circle cx="427.37" cy="318.59" r="1.05"/><circle cx="429.53" cy="318.29" r="1.05"/><circle cx="418.33" cy="316.8" r="1.05"/><circle cx="419.95" cy="321.18" r="1.05"/><circle cx="419.08" cy="316.03" r="1.05"/><circle cx="421.29" cy="315.97" r="1.05"/><circle cx="422.38" cy="319.23" r="1.05"/><circle cx="425.76" cy="316.55" r="1.05"/><circle cx="418.08" cy="318.45" r="1.05"/><circle cx="426.31" cy="318.18" r="1.05"/><circle cx="424.6" cy="320.97" r="1.05"/><circle cx="418.18" cy="317.11" r="1.05"/><circle cx="423.41" cy="318.72" r="1.05"/><circle cx="429.5" cy="318.83" r="1.05"/><circle cx="425.94" cy="318.02" r="1.05"/><circle cx="427.76" cy="320.52" r="1.05"/><circle cx="420.4" cy="316.15" r="1.05"/><circle cx="411.58" cy="320.93" r="1.05"/><circle cx="412.78" cy="320.88" r="1.05"/><circle cx="412.77" cy="317.96" r="1.05"/><circle cx="410.83" cy="322.07" r="1.05"/><circle cx="413.8" cy="316.84" r="1.05"/><circle cx="413.57" cy="317.94" r="1.05"/><circle cx="414.04" cy="316.25" r="1.05"/><circle cx="414.54" cy="315.22" r="1.05"/><circle cx="412.12" cy="319.93" r="1.05"/><circle cx="411.63" cy="320.91" r="1.05"/><circle cx="412.54" cy="319.73" r="1.05"/><circle cx="411.58" cy="322.48" r="1.05"/><circle cx="413.03" cy="317.27" r="1.05"/><circle cx="411.85" cy="322.5" r="1.05"/></g>
<g fill="#03a83f" fill-opacity="0.85"><circle cx="413.7" cy="313.84" r="1.0"/><circle cx="414.15" cy="314.08" r="1.0"/><circle cx="414.6" cy="314.4" r="1.0"/><circle cx="415.05" cy="313.72" r="1.0"/><circle cx="415.5" cy="314.18" r="1.0"/><circle cx="415.95" cy="313.68" r="1.0"/><circle cx="416.4" cy="314.15" r="1.0"/><circle cx="416.85" cy="314.09" r="1.0"/><circle cx="417.3" cy="313.91" r="1.0"/><circle cx="417.75" cy="313.97" r="1.0"/><circle cx="418.2" cy="313.67" r="1.0"/><circle cx="418.65" cy="313.8" r="1.0"/><circle cx="419.1" cy="314.18" r="1.0"/><circle cx="419.55" cy="314.13" r="1.0"/><circle cx="420" cy="314.56" r="1.0"/><circle cx="420.45" cy="313.6" r="1.0"/><circle cx="420.9" cy="313.76" r="1.0"/><circle cx="421.35" cy="313.93" r="1.0"/><circle cx="421.8" cy="313.92" r="1.0"/><circle cx="422.25" cy="313.75" r="1.0"/><circle cx="422.7" cy="313.78" r="1.0"/><circle cx="423.15" cy="313.87" r="1.0"/><circle cx="423.6" cy="314.27" r="1.0"/><circle cx="424.05" cy="313.87" r="1.0"/><circle cx="424.5" cy="313.68" r="1.0"/><circle cx="424.95" cy="313.99" r="1.0"/><circle cx="425.4" cy="313.13" r="1.0"/><circle cx="425.85" cy="313.65" r="1.0"/><circle cx="426.3" cy="313.72" r="1.0"/><circle cx="426.75" cy="313.99" r="1.0"/><circle cx="427.2" cy="313.23" r="1.0"/><circle cx="427.65" cy="313.84" r="1.0"/><circle cx="428.1" cy="313.59" r="1.0"/><circle cx="428.55" cy="314.19" r="1.0"/><circle cx="429" cy="314.13" r="1.0"/><circle cx="429.45" cy="313.77" r="1.0"/><circle cx="429.9" cy="314.04" r="1.0"/><circle cx="430.35" cy="313.56" r="1.0"/><circle cx="430.8" cy="313.96" r="1.0"/><circle cx="431.25" cy="313.98" r="1.0"/><circle cx="431.7" cy="314.21" r="1.0"/><circle cx="432.15" cy="313.77" r="1.0"/></g>
<g fill="#03a83f" fill-opacity="0.5"><circle cx="411.3" cy="322.6" r="1.0"/><circle cx="412.3" cy="320.2" r="1.0"/><circle cx="412.7" cy="318.2" r="1.0"/><circle cx="413.6" cy="316.6" r="1.0"/><circle cx="414.3" cy="315.2" r="1.0"/><circle cx="413.1" cy="321.5" r="1.0"/><circle cx="414.6" cy="318.7" r="1.0"/></g>
<g fill="#03a83f"><circle cx="409.2" cy="277.1" r="1.3"/><circle cx="410.7" cy="270.8" r="1.3"/><circle cx="413.3" cy="260.6" r="1.3"/><circle cx="415.7" cy="258.9" r="1.3"/><circle cx="417.5" cy="238.6" r="1.3"/><circle cx="420.3" cy="232.6" r="1.3"/><circle cx="422.1" cy="231.2" r="1.3"/><circle cx="426.8" cy="227.8" r="1.3"/><circle cx="428.8" cy="227.3" r="1.3"/><circle cx="431.3" cy="226.1" r="1.3"/><circle cx="433.5" cy="225.8" r="1.3"/><circle cx="436.3" cy="224.8" r="1.3"/><circle cx="438.2" cy="224.3" r="1.3"/><circle cx="439.8" cy="224" r="1.3"/><circle cx="441.73" cy="223.47" r="1.3"/><circle cx="443.66" cy="222.94" r="1.3"/><circle cx="445.58" cy="222.4" r="1.3"/><circle cx="447.56" cy="222.09" r="1.3"/><circle cx="449.53" cy="221.77" r="1.3"/><circle cx="451.51" cy="221.45" r="1.3"/><circle cx="453.48" cy="221.14" r="1.3"/><circle cx="455.46" cy="220.82" r="1.3"/><circle cx="457.44" cy="220.54" r="1.3"/><circle cx="459.42" cy="220.27" r="1.3"/><circle cx="461.4" cy="219.99" r="1.3"/><circle cx="463.38" cy="219.71" r="1.3"/><circle cx="465.36" cy="219.43" r="1.3"/><circle cx="467.35" cy="219.26" r="1.3"/><circle cx="469.35" cy="219.1" r="1.3"/><circle cx="471.34" cy="218.94" r="1.3"/><circle cx="473.33" cy="218.78" r="1.3"/><circle cx="475.33" cy="218.62" r="1.3"/><circle cx="477.32" cy="218.46" r="1.3"/><circle cx="479.31" cy="218.3" r="1.3"/><circle cx="481.31" cy="218.14" r="1.3"/><circle cx="483.3" cy="217.98" r="1.3"/><circle cx="485.3" cy="217.82" r="1.3"/><circle cx="487.29" cy="217.66" r="1.3"/><circle cx="489.28" cy="217.49" r="1.3"/><circle cx="508.9" cy="217.7" r="1.3"/><circle cx="521.3" cy="217.7" r="1.3"/><circle cx="525.8" cy="217.7" r="1.3"/><circle cx="533" cy="217.7" r="1.3"/><circle cx="534.6" cy="217.4" r="1.3"/><circle cx="536.3" cy="216.9" r="1.3"/><circle cx="538" cy="216.4" r="1.3"/></g>
<line x1="127.08" y1="241.1" x2="159.32" y2="241.1" stroke="#8e0c0c" stroke-width="1.5"/><path d="M164.6 241.1L158 244.6L158 237.6Z" fill="#8e0c0c"/><path d="M121.8 241.1L128.4 244.6L128.4 237.6Z" fill="#8e0c0c"/>
<line x1="244.8" y1="237.8" x2="241.48" y2="225.7" stroke="#8e0c0c" stroke-width="1.5"/><path d="M240 220.3L245.13 226.15L238.57 227.95Z" fill="#8e0c0c"/>
<line x1="73.7" y1="293.2" x2="73.7" y2="304.2" stroke="#8e0c0c" stroke-width="1.4"/><path d="M73.7 309.8L70.2 302.8L77.2 302.8Z" fill="#8e0c0c"/>
<text x="170.0" y="243.0" text-anchor="middle" class="an" fill="#c23a40" stroke="#c23a40" stroke-width="0.15">2</text>
<text x="245.6" y="243.8" text-anchor="middle" class="an" fill="#c23a40" stroke="#c23a40" stroke-width="0.15">1</text>
<text x="73.5" y="290.6" text-anchor="middle" class="an" fill="#c23a40" stroke="#c23a40" stroke-width="0.15">3</text>
<line x1="421.7" y1="240.7" x2="451.9" y2="240.7" stroke="#13912a" stroke-width="1.5"/><path d="M457.1 240.7L450.6 244.2L450.6 237.2Z" fill="#13912a"/><path d="M416.5 240.7L423 244.2L423 237.2Z" fill="#13912a"/>
<line x1="522.5" y1="232.8" x2="517.02" y2="225.11" stroke="#13912a" stroke-width="1.4"/><path d="M514.1 221L520.44 224.22L515.07 228.05Z" fill="#13912a"/>
<line x1="522.5" y1="232.8" x2="495.56" y2="234.89" stroke="#13912a" stroke-width="1.4"/><path d="M490.3 235.3L496.64 231.7L497.12 237.88Z" fill="#13912a"/>
<line x1="390.6" y1="304.4" x2="406.68" y2="309.08" stroke="#13912a" stroke-width="1.5"/><path d="M411.9 310.6L404.42 311.96L406.32 305.44Z" fill="#13912a"/>
<text x="411.0" y="242.2" text-anchor="middle" class="an" fill="#35b055" stroke="#35b055" stroke-width="0.15">2</text>
<text x="526.1" y="238.3" text-anchor="middle" class="an" fill="#35b055" stroke="#35b055" stroke-width="0.15">1</text>
<text x="386.0" y="305.2" text-anchor="middle" class="an" fill="#35b055" stroke="#35b055" stroke-width="0.15">3</text>
<rect x="30.4" y="38.7" width="54.5" height="36.3" fill="#fff" stroke="#505050" stroke-width="0.85"/>
<circle cx="40.6" cy="46.6" r="2.75" fill="#ff0505"/>
<text transform="translate(50.4,49.6) scale(1,1.15)" class="lg">Integrated</text>
<circle cx="40.6" cy="56.6" r="2.75" fill="#0072bd"/>
<text transform="translate(50.4,59.6) scale(1,1.15)" class="lg">Pure design</text>
<circle cx="40.6" cy="66.7" r="2.75" fill="#03a83f"/>
<text transform="translate(50.4,69.7) scale(1,1.15)" class="lg">Two-phase</text>
<rect x="305.6" y="38.9" width="63" height="65.5" fill="#fff" stroke="#505050" stroke-width="0.85"/>
<text transform="translate(309.8,48.8) scale(1,1.12)" class="lgt">Pure design</text>
<circle cx="316.6" cy="56.1" r="2.75" fill="#0072bd"/>
<circle cx="316.6" cy="66.2" r="2.75" fill="#0072bd" fill-opacity="0.27"/>
<rect x="314.1" y="73.8" width="5" height="5" fill="#0072bd"/>
<rect x="314.1" y="83.9" width="5" height="5" fill="#0072bd" fill-opacity="0.27"/>
<path d="M316.6 93.3L319.8 96.5L316.6 99.7L313.40000000000003 96.5Z" fill="#0072bd" fill-opacity="0.27"/>
<text transform="translate(326.6,59.1) scale(1,1.15)" class="lg">Test1: Best</text>
<text transform="translate(326.6,69.2) scale(1,1.15)" class="lg">Test1: All runs</text>
<text transform="translate(326.6,79.3) scale(1,1.15)" class="lg">Test2: Best</text>
<text transform="translate(326.6,89.4) scale(1,1.15)" class="lg">Test2: All runs</text>
<text transform="translate(326.6,99.5) scale(1,1.15)" class="lg">Test3: All runs</text>
<rect x="30.6" y="216.2" width="44.4" height="35.7" fill="#fff" stroke="#505050" stroke-width="0.85"/>
<text transform="translate(33.5,226.7) scale(1,1.12)" class="lgt">Integrated</text>
<circle cx="40.6" cy="233.5" r="2.75" fill="#ff0505"/>
<circle cx="40.6" cy="243.8" r="2.75" fill="#ff0505" fill-opacity="0.2"/>
<text transform="translate(50.6,236.6) scale(1,1.15)" class="lg">Best</text>
<text transform="translate(50.6,246.9) scale(1,1.15)" class="lg">All runs</text>
<rect x="306.2" y="216.2" width="44.4" height="35.7" fill="#fff" stroke="#505050" stroke-width="0.85"/>
<text transform="translate(309.1,226.7) scale(1,1.12)" class="lgt">Two-phase</text>
<circle cx="316.2" cy="233.5" r="2.75" fill="#03a83f"/>
<circle cx="316.2" cy="243.8" r="2.75" fill="#03a83f" fill-opacity="0.25"/>
<text transform="translate(326.2,236.6) scale(1,1.15)" class="lg">Best</text>
<text transform="translate(326.2,246.9) scale(1,1.15)" class="lg">All runs</text>
</svg>
</body></html>
